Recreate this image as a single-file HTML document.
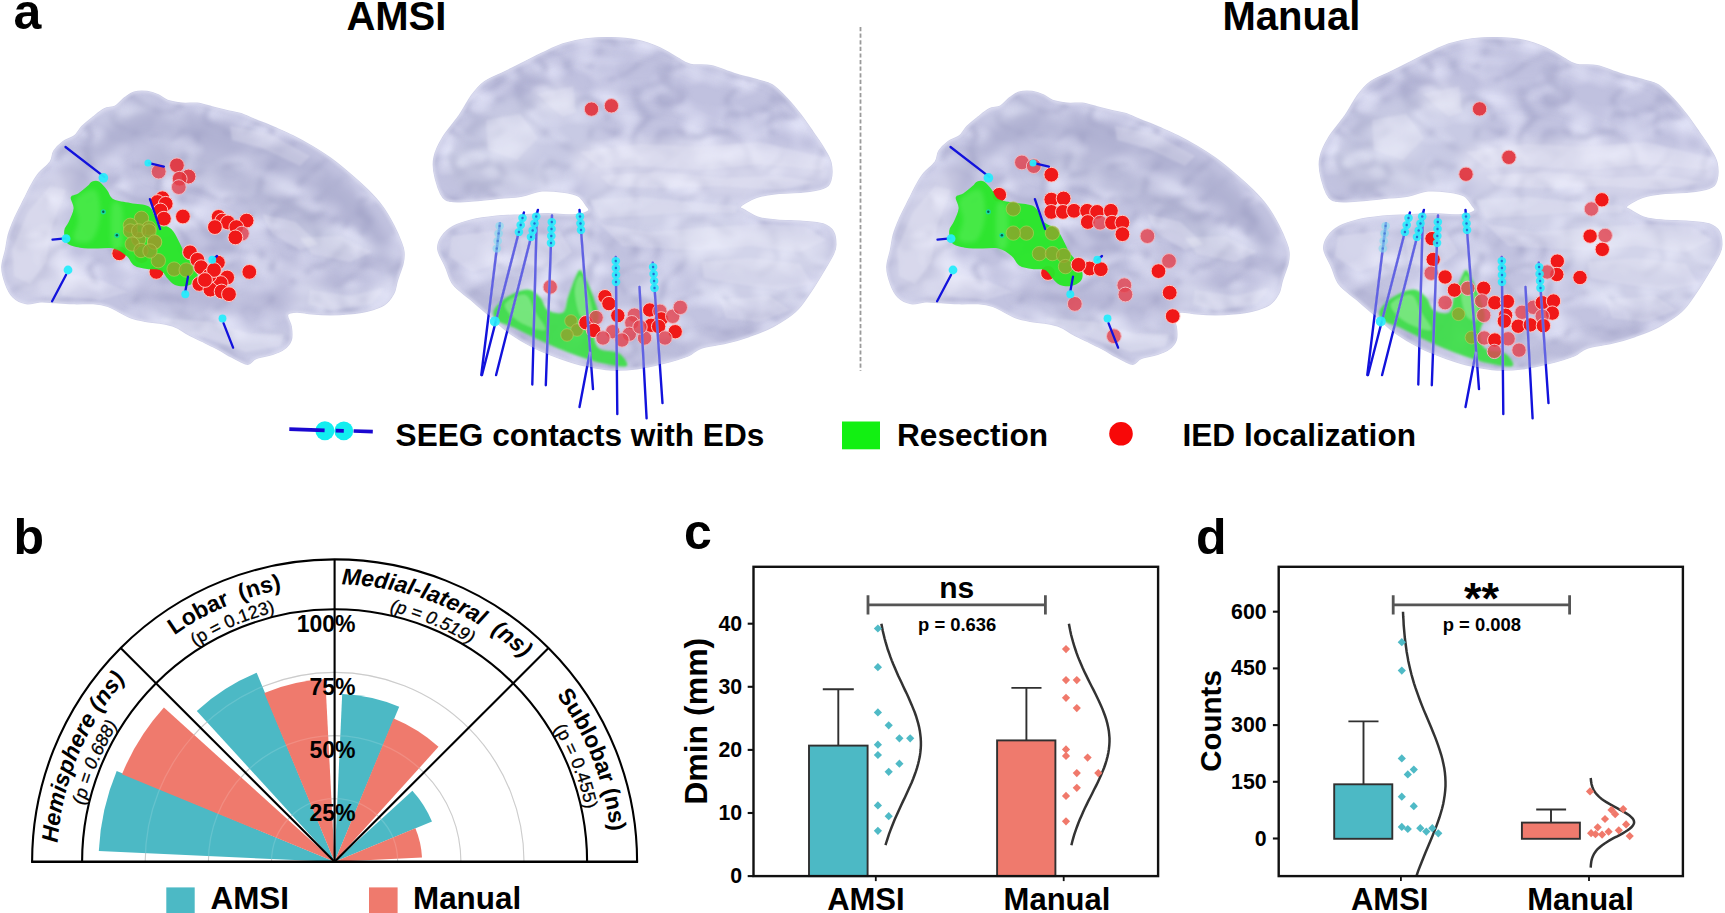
<!DOCTYPE html>
<html><head><meta charset="utf-8"><title>Figure</title>
<style>
html,body{margin:0;padding:0;background:#fff;}
svg{display:block;}
text{font-family:"Liberation Sans",sans-serif;fill:#000;}
</style></head><body>
<svg width="1725" height="913" viewBox="0 0 1725 913">
<defs>
<filter id="soft" x="-5%" y="-5%" width="110%" height="110%"><feGaussianBlur stdDeviation="0.6"/></filter>
<filter id="blur1" x="-10%" y="-10%" width="120%" height="120%"><feGaussianBlur stdDeviation="1"/></filter>
<filter id="blur2" x="-10%" y="-10%" width="120%" height="120%"><feGaussianBlur stdDeviation="2"/></filter>
<filter id="blur4" x="-10%" y="-10%" width="120%" height="120%"><feGaussianBlur stdDeviation="6"/></filter>
<filter id="tex" x="0" y="0" width="100%" height="100%" color-interpolation-filters="sRGB">
<feTurbulence type="turbulence" baseFrequency="0.022 0.03" numOctaves="2" seed="11" result="t"/>
<feColorMatrix in="t" type="matrix" values="0 0 0 0 0.62  0 0 0 0 0.625  0 0 0 0 0.77  -4.0 0 0 0 0.72" result="dark"/>
<feGaussianBlur in="dark" stdDeviation="2.6" result="darkb"/>
<feTurbulence type="fractalNoise" baseFrequency="0.025 0.035" numOctaves="2" seed="5" result="n"/>
<feColorMatrix in="n" type="matrix" values="0 0 0 0 0.88  0 0 0 0 0.885  0 0 0 0 0.965  0 3.0 0 0 -1.25" result="light"/>
<feGaussianBlur in="light" stdDeviation="1.5" result="lightb"/>
<feMerge><feMergeNode in="lightb"/><feMergeNode in="darkb"/></feMerge>
</filter>
</defs>
<rect width="1725" height="913" fill="#fff"/>
<g id="brains">
<clipPath id="cp1"><path d="M5.6,250C6.7,244.6 6.9,240 8.4,234.6C10,229.2 12.3,223.7 14.9,217.8C17.5,211.9 21.4,204.8 24.2,199.2C27,193.6 29.2,188.7 31.7,184.3C34.2,180 36,176.8 39.1,173.1C42.2,169.4 47.8,165.6 50.3,161.9C52.8,158.2 51.8,154.2 54,150.8C56.2,147.4 59.9,144 63.3,141.5C66.7,139 71.4,138.4 74.5,135.9C77.6,133.4 78.8,129.7 81.9,126.6C85,123.5 89.4,120.2 93.1,117.2C96.8,114.2 100.6,110.8 104.3,108.9C108,107.1 112.1,108 115.5,106.1C118.9,104.2 121.7,100 124.8,97.7C127.9,95.4 130.4,93.1 134.1,92.1C137.8,91.1 143.1,91 147.1,91.5C151.1,92 154.9,93.4 158.3,94.9C161.7,96.4 163.6,99.1 167.6,100.5C171.6,101.9 177.5,102.8 182.5,103.3C187.5,103.8 192.4,102.7 197.4,103.3C202.4,103.9 207.3,105.8 212.3,107C217.3,108.2 222.6,109.6 227.2,110.7C231.8,111.8 235.2,112 240,113.5C244.8,115 250.2,117.7 255.9,120C261.6,122.3 268.3,124.8 274.5,127.5C280.7,130.2 286.9,132.8 293.1,135.9C299.3,139 305.5,142.4 311.7,146.1C317.9,149.8 324.2,153.7 330.4,158.2C336.6,162.7 342.8,167.8 349,173.1C355.2,178.4 362,184.3 367.6,189.9C373.2,195.5 378.1,200.7 382.5,206.6C386.9,212.5 390.6,219.4 393.7,225.3C396.8,231.2 399.4,237.6 401.1,242C402.8,246.4 403.6,248.4 403.9,252C404.2,255.6 404.1,258.8 403,263.5C401.9,268.2 398.9,275.3 397.4,280.3C395.8,285.3 395.9,289.3 393.7,293.3C391.5,297.3 388.8,301.6 384.4,304.5C380,307.4 373.5,309.4 367.6,311C361.7,312.6 355.2,313.2 349,313.8C342.8,314.4 336.6,314.7 330.4,314.7C324.2,314.7 317.3,314.3 311.7,313.8C306.1,313.3 300.8,311.8 296.8,311.9C292.8,312 288.4,312.2 287.5,314.7C286.6,317.2 290.6,322.6 291.2,326.8C291.8,331 292.4,336.2 291.2,339.9C290,343.6 287.2,346.7 283.8,349.2C280.4,351.7 275.4,353.2 270.8,354.8C266.2,356.4 259.6,356.9 255.9,358.5C252.2,360.1 251.1,363.6 248.4,364.1C245.8,364.6 242.9,362.6 240,361.3C237.1,360.1 234.6,358.6 230.9,356.6C227.2,354.6 222.6,351.7 217.9,349.2C213.2,346.7 208,344.2 203,341.7C198,339.2 192.8,336.8 188.1,334.3C183.4,331.8 179.7,328.7 175,326.8C170.3,324.9 165,324 160.1,323.1C155.2,322.2 150.2,322.1 145.3,321.2C140.4,320.3 134.8,319.1 130.4,317.5C126.1,315.9 122.9,313.8 119.2,311.9C115.5,310 112.3,307.8 108,306.4C103.7,305 98.7,304.1 93.1,303.6C87.5,303.1 80.7,303.8 74.5,303.6C68.3,303.4 61.5,302.9 55.9,302.6C50.3,302.3 46,301.5 41,301.7C36,301.9 30.8,304.4 26.1,303.6C21.4,302.8 16.4,300.3 13,297C9.6,293.7 7.4,289 5.6,284C3.8,279 1.9,272.9 1.9,267.2C1.9,261.5 4.5,255.4 5.6,250Z"/></clipPath>
<g id="base1">
<path d="M5.6,250C6.7,244.6 6.9,240 8.4,234.6C10,229.2 12.3,223.7 14.9,217.8C17.5,211.9 21.4,204.8 24.2,199.2C27,193.6 29.2,188.7 31.7,184.3C34.2,180 36,176.8 39.1,173.1C42.2,169.4 47.8,165.6 50.3,161.9C52.8,158.2 51.8,154.2 54,150.8C56.2,147.4 59.9,144 63.3,141.5C66.7,139 71.4,138.4 74.5,135.9C77.6,133.4 78.8,129.7 81.9,126.6C85,123.5 89.4,120.2 93.1,117.2C96.8,114.2 100.6,110.8 104.3,108.9C108,107.1 112.1,108 115.5,106.1C118.9,104.2 121.7,100 124.8,97.7C127.9,95.4 130.4,93.1 134.1,92.1C137.8,91.1 143.1,91 147.1,91.5C151.1,92 154.9,93.4 158.3,94.9C161.7,96.4 163.6,99.1 167.6,100.5C171.6,101.9 177.5,102.8 182.5,103.3C187.5,103.8 192.4,102.7 197.4,103.3C202.4,103.9 207.3,105.8 212.3,107C217.3,108.2 222.6,109.6 227.2,110.7C231.8,111.8 235.2,112 240,113.5C244.8,115 250.2,117.7 255.9,120C261.6,122.3 268.3,124.8 274.5,127.5C280.7,130.2 286.9,132.8 293.1,135.9C299.3,139 305.5,142.4 311.7,146.1C317.9,149.8 324.2,153.7 330.4,158.2C336.6,162.7 342.8,167.8 349,173.1C355.2,178.4 362,184.3 367.6,189.9C373.2,195.5 378.1,200.7 382.5,206.6C386.9,212.5 390.6,219.4 393.7,225.3C396.8,231.2 399.4,237.6 401.1,242C402.8,246.4 403.6,248.4 403.9,252C404.2,255.6 404.1,258.8 403,263.5C401.9,268.2 398.9,275.3 397.4,280.3C395.8,285.3 395.9,289.3 393.7,293.3C391.5,297.3 388.8,301.6 384.4,304.5C380,307.4 373.5,309.4 367.6,311C361.7,312.6 355.2,313.2 349,313.8C342.8,314.4 336.6,314.7 330.4,314.7C324.2,314.7 317.3,314.3 311.7,313.8C306.1,313.3 300.8,311.8 296.8,311.9C292.8,312 288.4,312.2 287.5,314.7C286.6,317.2 290.6,322.6 291.2,326.8C291.8,331 292.4,336.2 291.2,339.9C290,343.6 287.2,346.7 283.8,349.2C280.4,351.7 275.4,353.2 270.8,354.8C266.2,356.4 259.6,356.9 255.9,358.5C252.2,360.1 251.1,363.6 248.4,364.1C245.8,364.6 242.9,362.6 240,361.3C237.1,360.1 234.6,358.6 230.9,356.6C227.2,354.6 222.6,351.7 217.9,349.2C213.2,346.7 208,344.2 203,341.7C198,339.2 192.8,336.8 188.1,334.3C183.4,331.8 179.7,328.7 175,326.8C170.3,324.9 165,324 160.1,323.1C155.2,322.2 150.2,322.1 145.3,321.2C140.4,320.3 134.8,319.1 130.4,317.5C126.1,315.9 122.9,313.8 119.2,311.9C115.5,310 112.3,307.8 108,306.4C103.7,305 98.7,304.1 93.1,303.6C87.5,303.1 80.7,303.8 74.5,303.6C68.3,303.4 61.5,302.9 55.9,302.6C50.3,302.3 46,301.5 41,301.7C36,301.9 30.8,304.4 26.1,303.6C21.4,302.8 16.4,300.3 13,297C9.6,293.7 7.4,289 5.6,284C3.8,279 1.9,272.9 1.9,267.2C1.9,261.5 4.5,255.4 5.6,250Z" fill="#c2c3e0" stroke="#cfd0e8" stroke-width="1.5" filter="url(#soft)"/>
<g clip-path="url(#cp1)">
<rect x="-3.1" y="86.5" width="412" height="282.6" filter="url(#tex)"/>
<g filter="url(#blur4)">
<path d="M60,175C63.3,165.8 81.7,150.5 95,140C108.3,129.5 122.5,115.7 140,112C157.5,108.3 180,114.2 200,118C220,121.8 240,127.2 260,135C280,142.8 302.5,153.3 320,165C337.5,176.7 353,190.8 365,205C377,219.2 389.5,240.5 392,250C394.5,259.5 387,266.7 380,262C373,257.3 363.3,234.3 350,222C336.7,209.7 318.3,198.3 300,188C281.7,177.7 258.3,167.2 240,160C221.7,152.8 206.7,148.3 190,145C173.3,141.7 155,136.7 140,140C125,143.3 110.8,155.8 100,165C89.2,174.2 81.7,193.3 75,195C68.3,196.7 56.7,184.2 60,175Z" fill="#9fa1c5" fill-opacity="0.5"/>
<path d="M150,150C158.3,145.8 181.7,145.8 200,150C218.3,154.2 240,164.2 260,175C280,185.8 305,202.5 320,215C335,227.5 348.3,242.2 350,250C351.7,257.8 340,265.3 330,262C320,258.7 305,240.3 290,230C275,219.7 256.7,208.3 240,200C223.3,191.7 205,184.2 190,180C175,175.8 156.7,180 150,175C143.3,170 141.7,154.2 150,150Z" fill="#9fa1c5" fill-opacity="0.3"/>
<path d="M130,296C135,298.7 163.3,297.3 180,300C196.7,302.7 212.5,310.3 230,312C247.5,313.7 273.3,312.3 285,310C296.7,307.7 300.8,301.7 300,298C299.2,294.3 290,288.3 280,288C270,287.7 255,295.7 240,296C225,296.3 205,292 190,290C175,288 160,283 150,284C140,285 125,293.3 130,296Z" fill="#9fa1c5" fill-opacity="0.4"/>
<path d="M255,250C262,248.3 285.8,259 300,262C314.2,265 328.3,269.2 340,268C351.7,266.8 364.7,254.7 370,255C375.3,255.3 377,265 372,270C367,275 352.8,282.5 340,285C327.2,287.5 308.7,287.2 295,285C281.3,282.8 264.7,277.8 258,272C251.3,266.2 248,251.7 255,250Z" fill="#9fa1c5" fill-opacity="0.25"/>
<path d="M8,250C10,238.3 13.8,221.7 20,210C26.2,198.3 35.8,186.7 45,180C54.2,173.3 70.8,166.7 75,170C79.2,173.3 72.2,189.2 70,200C67.8,210.8 62,224.7 62,235C62,245.3 64.5,253.7 70,262C75.5,270.3 96.7,279 95,285C93.3,291 71.7,296.2 60,298C48.3,299.8 33.7,299 25,296C16.3,293 10.8,287.7 8,280C5.2,272.3 6,261.7 8,250Z" fill="#e6e7f5" fill-opacity="0.372"/>
<path d="M300,285C305.8,282 326.7,292 340,292C353.3,292 370.7,290 380,285C389.3,280 395.2,259.5 396,262C396.8,264.5 392.7,292 385,300C377.3,308 363.3,308.3 350,310C336.7,311.7 313.3,314.2 305,310C296.7,305.8 294.2,288 300,285Z" fill="#e6e7f5" fill-opacity="0.31"/>
<path d="M150,312C154.2,310.3 188.3,315 205,318C221.7,321 236.7,328 250,330C263.3,332 279.2,327.5 285,330C290.8,332.5 290.8,340.8 285,345C279.2,349.2 261.7,355.8 250,355C238.3,354.2 226.7,344.5 215,340C203.3,335.5 190.8,332.7 180,328C169.2,323.3 145.8,313.7 150,312Z" fill="#e6e7f5" fill-opacity="0.31"/>
<path d="M300,225C306.7,222.8 333,227.8 345,232C357,236.2 371.2,246 372,250C372.8,254 361.2,256.8 350,256C338.8,255.2 313.3,250.2 305,245C296.7,239.8 293.3,227.2 300,225Z" fill="#e6e7f5" fill-opacity="0.186"/>
<path d="M95,120C95.8,116.3 115.8,104.2 125,100C134.2,95.8 145.8,93.7 150,95C154.2,96.3 155,103.5 150,108C145,112.5 129.2,120 120,122C110.8,124 94.2,123.7 95,120Z" fill="#e6e7f5" fill-opacity="0.186"/>
</g>
<g fill="#f4f4fb" fill-opacity="0.24" filter="url(#blur1)">
<path d="M12,250L28,212L50,186L66,190L52,226L46,262L30,284L14,276Z"/>
<path d="M60,272L100,280L128,292L100,300L62,296Z"/>
<path d="M300,238L340,236L372,252L350,262L312,254Z"/>
<path d="M310,290L350,296L384,288L372,304L330,310L308,304Z"/>
<path d="M160,318L210,322L250,334L284,334L280,346L246,352L212,340L176,330Z"/>
<path d="M230,126L270,134L310,156L300,166L262,148L232,140Z"/>
<path d="M262,214L296,222L318,244L300,250L272,234Z"/>
</g>
<path d="M5.6,250C6.7,244.6 6.9,240 8.4,234.6C10,229.2 12.3,223.7 14.9,217.8C17.5,211.9 21.4,204.8 24.2,199.2C27,193.6 29.2,188.7 31.7,184.3C34.2,180 36,176.8 39.1,173.1C42.2,169.4 47.8,165.6 50.3,161.9C52.8,158.2 51.8,154.2 54,150.8C56.2,147.4 59.9,144 63.3,141.5C66.7,139 71.4,138.4 74.5,135.9C77.6,133.4 78.8,129.7 81.9,126.6C85,123.5 89.4,120.2 93.1,117.2C96.8,114.2 100.6,110.8 104.3,108.9C108,107.1 112.1,108 115.5,106.1C118.9,104.2 121.7,100 124.8,97.7C127.9,95.4 130.4,93.1 134.1,92.1C137.8,91.1 143.1,91 147.1,91.5C151.1,92 154.9,93.4 158.3,94.9C161.7,96.4 163.6,99.1 167.6,100.5C171.6,101.9 177.5,102.8 182.5,103.3C187.5,103.8 192.4,102.7 197.4,103.3C202.4,103.9 207.3,105.8 212.3,107C217.3,108.2 222.6,109.6 227.2,110.7C231.8,111.8 235.2,112 240,113.5C244.8,115 250.2,117.7 255.9,120C261.6,122.3 268.3,124.8 274.5,127.5C280.7,130.2 286.9,132.8 293.1,135.9C299.3,139 305.5,142.4 311.7,146.1C317.9,149.8 324.2,153.7 330.4,158.2C336.6,162.7 342.8,167.8 349,173.1C355.2,178.4 362,184.3 367.6,189.9C373.2,195.5 378.1,200.7 382.5,206.6C386.9,212.5 390.6,219.4 393.7,225.3C396.8,231.2 399.4,237.6 401.1,242C402.8,246.4 403.6,248.4 403.9,252C404.2,255.6 404.1,258.8 403,263.5C401.9,268.2 398.9,275.3 397.4,280.3C395.8,285.3 395.9,289.3 393.7,293.3C391.5,297.3 388.8,301.6 384.4,304.5C380,307.4 373.5,309.4 367.6,311C361.7,312.6 355.2,313.2 349,313.8C342.8,314.4 336.6,314.7 330.4,314.7C324.2,314.7 317.3,314.3 311.7,313.8C306.1,313.3 300.8,311.8 296.8,311.9C292.8,312 288.4,312.2 287.5,314.7C286.6,317.2 290.6,322.6 291.2,326.8C291.8,331 292.4,336.2 291.2,339.9C290,343.6 287.2,346.7 283.8,349.2C280.4,351.7 275.4,353.2 270.8,354.8C266.2,356.4 259.6,356.9 255.9,358.5C252.2,360.1 251.1,363.6 248.4,364.1C245.8,364.6 242.9,362.6 240,361.3C237.1,360.1 234.6,358.6 230.9,356.6C227.2,354.6 222.6,351.7 217.9,349.2C213.2,346.7 208,344.2 203,341.7C198,339.2 192.8,336.8 188.1,334.3C183.4,331.8 179.7,328.7 175,326.8C170.3,324.9 165,324 160.1,323.1C155.2,322.2 150.2,322.1 145.3,321.2C140.4,320.3 134.8,319.1 130.4,317.5C126.1,315.9 122.9,313.8 119.2,311.9C115.5,310 112.3,307.8 108,306.4C103.7,305 98.7,304.1 93.1,303.6C87.5,303.1 80.7,303.8 74.5,303.6C68.3,303.4 61.5,302.9 55.9,302.6C50.3,302.3 46,301.5 41,301.7C36,301.9 30.8,304.4 26.1,303.6C21.4,302.8 16.4,300.3 13,297C9.6,293.7 7.4,289 5.6,284C3.8,279 1.9,272.9 1.9,267.2C1.9,261.5 4.5,255.4 5.6,250Z" fill="none" stroke="#d9daee" stroke-width="3.5" stroke-opacity="0.7" filter="url(#blur1)"/>
</g>
</g>
<clipPath id="cp2"><path d="M585.8,204.8C584.1,202.2 582,198 578.2,195.9C574.4,193.8 568.9,192.9 562.9,192.1C556.9,191.2 549.2,190.2 542.4,190.8C535.6,191.4 529.6,194.6 522,195.9C514.4,197.2 505,197.7 496.5,198.5C488,199.3 479.5,200.8 471,201C462.5,201.2 451.4,203.5 445.5,199.7C439.6,195.9 437.2,185 435.3,178C433.4,171 432.7,164.4 434,157.6C435.3,150.8 438.9,144 443,137.2C447.1,130.4 453.6,123.6 458.3,116.8C463,110 466.8,102.2 471,96.4C475.2,90.7 478.3,86.3 483.8,82.3C489.3,78.2 497.8,75.3 504.2,72.1C510.6,68.9 515.7,66.4 522.1,63.2C528.5,60 535.7,56.2 542.5,53C549.3,49.8 555.7,46.4 562.9,44C570.1,41.6 577.8,39.9 585.9,38.9C594,37.9 602.9,37.5 611.4,37.7C619.9,37.9 628.8,38.5 636.9,40.2C645,41.9 653.1,44.9 659.9,47.9C666.7,50.9 672.7,55.3 677.8,58.1C682.9,60.9 685,63.2 690.5,64.5C696,65.8 703.8,64.2 711,65.7C718.2,67.2 726.2,71.1 733.9,73.4C741.5,75.8 750.5,77.9 756.9,79.8C763.3,81.7 767.1,81.7 772.2,84.9C777.3,88.1 782.8,94 787.5,98.9C792.2,103.8 796,108.7 800.3,114.2C804.5,119.7 809.2,126.6 813,132.1C816.8,137.6 820.3,142.3 823.3,147.4C826.3,152.5 829.7,157.2 830.9,162.7C832.1,168.2 832,176.3 830.7,180.6C829.4,184.9 827.8,186.4 823.1,188.3C818.4,190.2 810.4,191.2 802.7,192.1C795,192.9 784.8,192.6 777.1,193.4C769.4,194.2 762.2,195.5 756.7,197.2C751.2,198.9 746.8,201.9 744,203.6C741.2,205.3 740.2,206.3 740.2,207.4C740.2,208.5 740.8,208.2 744,209.9C747.2,211.6 753.8,215.9 759.3,217.6C764.8,219.3 769.9,219.6 777.1,220.2C784.3,220.8 795,220.8 802.7,221.4C810.4,222 818,222.3 823.1,224C828.2,225.7 831.2,228.2 833.3,231.6C835.4,235 835.8,240.7 835.8,244.4C835.8,248.1 835.6,249.2 833.5,253.8C831.4,258.4 827.1,265.3 823.3,271.7C819.5,278.1 815.1,285.5 810.5,292.1C805.9,298.7 801.8,305.8 795.5,311.5C789.2,317.2 780.8,322.3 773,326.5C765.2,330.7 756.8,333.7 749,336.5C741.2,339.3 734.3,341.2 726.3,343.1C718.3,345.1 707.2,346.1 700.8,348.2C694.4,350.3 694.4,353.3 688,355.9C681.6,358.5 671,361.5 662.5,363.6C654,365.7 645.4,367.6 636.9,368.7C628.4,369.8 619.9,370.3 611.4,369.9C602.9,369.5 594.4,368 585.9,366.1C577.4,364.2 568.9,361.5 560.4,358.5C551.9,355.5 543.4,352.5 534.9,348.2C526.4,343.9 517,338.4 509.3,332.9C501.6,327.4 495.3,320.6 488.9,315.1C482.5,309.6 476.9,304.9 471,299.8C465.1,294.7 457.4,289.9 453.2,284.4C448.9,278.9 448.1,272.4 445.5,266.6C442.9,260.8 438.5,254.5 437.9,249.5C437.3,244.5 439.1,240.5 441.7,236.7C444.2,232.9 448.3,229.2 453.2,226.5C458.1,223.8 463.8,221.9 471,220.2C478.2,218.5 488,217.2 496.5,216.3C505,215.4 513.5,215.4 522,215C530.5,214.6 539.1,213.8 547.6,213.8C556.1,213.8 566.3,215.4 573.1,215C579.9,214.6 586.3,212.9 588.4,211.2C590.5,209.5 587.5,207.4 585.8,204.8Z"/></clipPath>
<g id="base2">
<path d="M585.8,204.8C584.1,202.2 582,198 578.2,195.9C574.4,193.8 568.9,192.9 562.9,192.1C556.9,191.2 549.2,190.2 542.4,190.8C535.6,191.4 529.6,194.6 522,195.9C514.4,197.2 505,197.7 496.5,198.5C488,199.3 479.5,200.8 471,201C462.5,201.2 451.4,203.5 445.5,199.7C439.6,195.9 437.2,185 435.3,178C433.4,171 432.7,164.4 434,157.6C435.3,150.8 438.9,144 443,137.2C447.1,130.4 453.6,123.6 458.3,116.8C463,110 466.8,102.2 471,96.4C475.2,90.7 478.3,86.3 483.8,82.3C489.3,78.2 497.8,75.3 504.2,72.1C510.6,68.9 515.7,66.4 522.1,63.2C528.5,60 535.7,56.2 542.5,53C549.3,49.8 555.7,46.4 562.9,44C570.1,41.6 577.8,39.9 585.9,38.9C594,37.9 602.9,37.5 611.4,37.7C619.9,37.9 628.8,38.5 636.9,40.2C645,41.9 653.1,44.9 659.9,47.9C666.7,50.9 672.7,55.3 677.8,58.1C682.9,60.9 685,63.2 690.5,64.5C696,65.8 703.8,64.2 711,65.7C718.2,67.2 726.2,71.1 733.9,73.4C741.5,75.8 750.5,77.9 756.9,79.8C763.3,81.7 767.1,81.7 772.2,84.9C777.3,88.1 782.8,94 787.5,98.9C792.2,103.8 796,108.7 800.3,114.2C804.5,119.7 809.2,126.6 813,132.1C816.8,137.6 820.3,142.3 823.3,147.4C826.3,152.5 829.7,157.2 830.9,162.7C832.1,168.2 832,176.3 830.7,180.6C829.4,184.9 827.8,186.4 823.1,188.3C818.4,190.2 810.4,191.2 802.7,192.1C795,192.9 784.8,192.6 777.1,193.4C769.4,194.2 762.2,195.5 756.7,197.2C751.2,198.9 746.8,201.9 744,203.6C741.2,205.3 740.2,206.3 740.2,207.4C740.2,208.5 740.8,208.2 744,209.9C747.2,211.6 753.8,215.9 759.3,217.6C764.8,219.3 769.9,219.6 777.1,220.2C784.3,220.8 795,220.8 802.7,221.4C810.4,222 818,222.3 823.1,224C828.2,225.7 831.2,228.2 833.3,231.6C835.4,235 835.8,240.7 835.8,244.4C835.8,248.1 835.6,249.2 833.5,253.8C831.4,258.4 827.1,265.3 823.3,271.7C819.5,278.1 815.1,285.5 810.5,292.1C805.9,298.7 801.8,305.8 795.5,311.5C789.2,317.2 780.8,322.3 773,326.5C765.2,330.7 756.8,333.7 749,336.5C741.2,339.3 734.3,341.2 726.3,343.1C718.3,345.1 707.2,346.1 700.8,348.2C694.4,350.3 694.4,353.3 688,355.9C681.6,358.5 671,361.5 662.5,363.6C654,365.7 645.4,367.6 636.9,368.7C628.4,369.8 619.9,370.3 611.4,369.9C602.9,369.5 594.4,368 585.9,366.1C577.4,364.2 568.9,361.5 560.4,358.5C551.9,355.5 543.4,352.5 534.9,348.2C526.4,343.9 517,338.4 509.3,332.9C501.6,327.4 495.3,320.6 488.9,315.1C482.5,309.6 476.9,304.9 471,299.8C465.1,294.7 457.4,289.9 453.2,284.4C448.9,278.9 448.1,272.4 445.5,266.6C442.9,260.8 438.5,254.5 437.9,249.5C437.3,244.5 439.1,240.5 441.7,236.7C444.2,232.9 448.3,229.2 453.2,226.5C458.1,223.8 463.8,221.9 471,220.2C478.2,218.5 488,217.2 496.5,216.3C505,215.4 513.5,215.4 522,215C530.5,214.6 539.1,213.8 547.6,213.8C556.1,213.8 566.3,215.4 573.1,215C579.9,214.6 586.3,212.9 588.4,211.2C590.5,209.5 587.5,207.4 585.8,204.8Z" fill="#c2c3e0" stroke="#cfd0e8" stroke-width="1.5" filter="url(#soft)"/>
<g clip-path="url(#cp2)">
<rect x="429" y="32.7" width="411.8" height="342.2" filter="url(#tex)"/>
<g filter="url(#blur4)">
<path d="M470,120C475,108.3 500,90.8 520,80C540,69.2 566.7,58 590,55C613.3,52 638.3,57 660,62C681.7,67 700,77 720,85C740,93 765,99.2 780,110C795,120.8 810,141.7 810,150C810,158.3 795,163.3 780,160C765,156.7 740,138.3 720,130C700,121.7 680,114.2 660,110C640,105.8 620,103.3 600,105C580,106.7 558.3,112.5 540,120C521.7,127.5 501.7,150 490,150C478.3,150 465,131.7 470,120Z" fill="#9fa1c5" fill-opacity="0.06"/>
<path d="M445,170C445,162.7 457.5,151.7 470,150C482.5,148.3 505.7,155.3 520,160C534.3,164.7 556,172.7 556,178C556,183.3 534.3,189.3 520,192C505.7,194.7 482.5,197.7 470,194C457.5,190.3 445,177.3 445,170Z" fill="#9fa1c5" fill-opacity="0.2"/>
<path d="M450,150C453.3,137.5 466.7,119.2 480,110C493.3,100.8 512.5,96.7 530,95C547.5,93.3 573.3,92.5 585,100C596.7,107.5 600.8,126.7 600,140C599.2,153.3 593.3,171.7 580,180C566.7,188.3 540,189.2 520,190C500,190.8 471.7,191.7 460,185C448.3,178.3 446.7,162.5 450,150Z" fill="#e6e7f5" fill-opacity="0.186"/>
<path d="M535,92C537.5,87.3 553.3,83 560,84C566.7,85 573.3,93 575,98C576.7,103 575,111.7 570,114C565,116.3 550.8,115.7 545,112C539.2,108.3 532.5,96.7 535,92Z" fill="#e6e7f5" fill-opacity="0.372"/>
<path d="M484,130C485.7,123 501.5,118.3 510,118C518.5,117.7 531.7,121.8 535,128C538.3,134.2 535.8,149.7 530,155C524.2,160.3 507.7,164.2 500,160C492.3,155.8 482.3,137 484,130Z" fill="#e6e7f5" fill-opacity="0.341"/>
<path d="M578,150C587.2,143 616.3,141.3 640,140C663.7,138.7 695,140.3 720,142C745,143.7 772,146.2 790,150C808,153.8 822.7,159.3 828,165C833.3,170.7 831.7,180.2 822,184C812.3,187.8 783.7,185.7 770,188C756.3,190.3 753.3,197.7 740,198C726.7,198.3 708.3,192 690,190C671.7,188 647.5,187.3 630,186C612.5,184.7 593.7,188 585,182C576.3,176 568.8,157 578,150Z" fill="#e6e7f5" fill-opacity="0.496"/>
<path d="M590,188C601.7,184.3 635,189.2 660,192C685,194.8 727.5,198.3 740,205C752.5,211.7 745,226.5 735,232C725,237.5 699.2,238.3 680,238C660.8,237.7 635,234 620,230C605,226 595,221 590,214C585,207 578.3,191.7 590,188Z" fill="#e6e7f5" fill-opacity="0.341"/>
<path d="M675,236C685,230.3 719.2,228.7 740,228C760.8,227.3 785,229.2 800,232C815,234.8 826.3,239 830,245C833.7,251 830.3,262.8 822,268C813.7,273.2 797,275.3 780,276C763,276.7 736.7,274.3 720,272C703.3,269.7 687.5,268 680,262C672.5,256 665,241.7 675,236Z" fill="#e6e7f5" fill-opacity="0.465"/>
<path d="M700,282C709.2,278.7 742.8,279.3 760,280C777.2,280.7 797.2,282 803,286C808.8,290 805.5,300.7 795,304C784.5,307.3 755,306.7 740,306C725,305.3 711.7,304 705,300C698.3,296 690.8,285.3 700,282Z" fill="#e6e7f5" fill-opacity="0.31"/>
<path d="M450,232C454.2,225.3 468.3,222.7 480,222C491.7,221.3 506.7,225 520,228C533.3,231 555.8,234.3 560,240C564.2,245.7 555,257.3 545,262C535,266.7 515,268 500,268C485,268 463.3,268 455,262C446.7,256 445.8,238.7 450,232Z" fill="#e6e7f5" fill-opacity="0.248"/>
<path d="M455,275C462,276.7 482.5,290 500,300C517.5,310 540,326.3 560,335C580,343.7 598.3,351.2 620,352C641.7,352.8 670,344.5 690,340C710,335.5 723.3,331.7 740,325C756.7,318.3 781.7,301.2 790,300C798.3,298.8 797.5,311.7 790,318C782.5,324.3 761.7,332 745,338C728.3,344 710.8,349.3 690,354C669.2,358.7 641.7,365.8 620,366C598.3,366.2 580,361.8 560,355C540,348.2 517,335.8 500,325C483,314.2 465.5,298.3 458,290C450.5,281.7 448,273.3 455,275Z" fill="#9fa1c5" fill-opacity="0.25"/>
</g>
<g fill="#f4f4fb" fill-opacity="0.24" filter="url(#blur1)">
<path d="M537.4,93.8L573.1,86.2L575.7,112L562.9,116.8L547.6,104Z"/>
<path d="M486,120L520,114L538,138L517,160L488,150Z"/>
<path d="M580,152L640,144L700,147L760,142L826,158L822,170L760,164L700,170L640,166L600,168Z"/>
<path d="M600,176L660,172L720,178L780,176L815,182L780,190L720,186L660,188L610,186Z"/>
<path d="M590,200L640,197L700,203L738,206L735,213L690,212L640,216L600,218Z"/>
<path d="M600,224L650,232L700,228L760,224L805,226L826,240L800,252L750,246L700,250L650,248L622,246Z"/>
<path d="M702,262L750,258L800,264L812,284L780,290L750,286L704,278Z"/>
<path d="M452,236L494,231L503,262L472,272L449,256Z"/>
<path d="M520,238L560,232L572,252L548,270L522,262Z"/>
<path d="M720,300L770,296L790,310L760,322L726,318Z"/>
</g>
<path d="M585.8,204.8C584.1,202.2 582,198 578.2,195.9C574.4,193.8 568.9,192.9 562.9,192.1C556.9,191.2 549.2,190.2 542.4,190.8C535.6,191.4 529.6,194.6 522,195.9C514.4,197.2 505,197.7 496.5,198.5C488,199.3 479.5,200.8 471,201C462.5,201.2 451.4,203.5 445.5,199.7C439.6,195.9 437.2,185 435.3,178C433.4,171 432.7,164.4 434,157.6C435.3,150.8 438.9,144 443,137.2C447.1,130.4 453.6,123.6 458.3,116.8C463,110 466.8,102.2 471,96.4C475.2,90.7 478.3,86.3 483.8,82.3C489.3,78.2 497.8,75.3 504.2,72.1C510.6,68.9 515.7,66.4 522.1,63.2C528.5,60 535.7,56.2 542.5,53C549.3,49.8 555.7,46.4 562.9,44C570.1,41.6 577.8,39.9 585.9,38.9C594,37.9 602.9,37.5 611.4,37.7C619.9,37.9 628.8,38.5 636.9,40.2C645,41.9 653.1,44.9 659.9,47.9C666.7,50.9 672.7,55.3 677.8,58.1C682.9,60.9 685,63.2 690.5,64.5C696,65.8 703.8,64.2 711,65.7C718.2,67.2 726.2,71.1 733.9,73.4C741.5,75.8 750.5,77.9 756.9,79.8C763.3,81.7 767.1,81.7 772.2,84.9C777.3,88.1 782.8,94 787.5,98.9C792.2,103.8 796,108.7 800.3,114.2C804.5,119.7 809.2,126.6 813,132.1C816.8,137.6 820.3,142.3 823.3,147.4C826.3,152.5 829.7,157.2 830.9,162.7C832.1,168.2 832,176.3 830.7,180.6C829.4,184.9 827.8,186.4 823.1,188.3C818.4,190.2 810.4,191.2 802.7,192.1C795,192.9 784.8,192.6 777.1,193.4C769.4,194.2 762.2,195.5 756.7,197.2C751.2,198.9 746.8,201.9 744,203.6C741.2,205.3 740.2,206.3 740.2,207.4C740.2,208.5 740.8,208.2 744,209.9C747.2,211.6 753.8,215.9 759.3,217.6C764.8,219.3 769.9,219.6 777.1,220.2C784.3,220.8 795,220.8 802.7,221.4C810.4,222 818,222.3 823.1,224C828.2,225.7 831.2,228.2 833.3,231.6C835.4,235 835.8,240.7 835.8,244.4C835.8,248.1 835.6,249.2 833.5,253.8C831.4,258.4 827.1,265.3 823.3,271.7C819.5,278.1 815.1,285.5 810.5,292.1C805.9,298.7 801.8,305.8 795.5,311.5C789.2,317.2 780.8,322.3 773,326.5C765.2,330.7 756.8,333.7 749,336.5C741.2,339.3 734.3,341.2 726.3,343.1C718.3,345.1 707.2,346.1 700.8,348.2C694.4,350.3 694.4,353.3 688,355.9C681.6,358.5 671,361.5 662.5,363.6C654,365.7 645.4,367.6 636.9,368.7C628.4,369.8 619.9,370.3 611.4,369.9C602.9,369.5 594.4,368 585.9,366.1C577.4,364.2 568.9,361.5 560.4,358.5C551.9,355.5 543.4,352.5 534.9,348.2C526.4,343.9 517,338.4 509.3,332.9C501.6,327.4 495.3,320.6 488.9,315.1C482.5,309.6 476.9,304.9 471,299.8C465.1,294.7 457.4,289.9 453.2,284.4C448.9,278.9 448.1,272.4 445.5,266.6C442.9,260.8 438.5,254.5 437.9,249.5C437.3,244.5 439.1,240.5 441.7,236.7C444.2,232.9 448.3,229.2 453.2,226.5C458.1,223.8 463.8,221.9 471,220.2C478.2,218.5 488,217.2 496.5,216.3C505,215.4 513.5,215.4 522,215C530.5,214.6 539.1,213.8 547.6,213.8C556.1,213.8 566.3,215.4 573.1,215C579.9,214.6 586.3,212.9 588.4,211.2C590.5,209.5 587.5,207.4 585.8,204.8Z" fill="none" stroke="#d9daee" stroke-width="3.5" stroke-opacity="0.7" filter="url(#blur1)"/>
</g>
</g>
<circle cx="119.2" cy="253.3" r="7.4" fill="#f01818" stroke="#ffc9c4" stroke-width="1"/>
<circle cx="141.5" cy="256.1" r="7.4" fill="#f01818" stroke="#ffc9c4" stroke-width="1"/>
<circle cx="156.4" cy="271.9" r="7.4" fill="#f01818" stroke="#ffc9c4" stroke-width="1"/>
<g id="green1"><path id="g1p" d="M92.2,181.5C94.1,180.7 96.5,180.1 99,181.5C101.5,182.9 104.6,187 107,189.9C109.4,192.8 109.7,197 113.6,199.2C117.5,201.4 124.5,201.7 130.4,202.9C136.3,204.1 144.3,203.5 149,206.6C153.7,209.7 154.6,217.8 158.3,221.5C162,225.2 167.9,225.7 171.3,229C174.7,232.3 176.6,237.3 178.8,241.2C181,245.1 182.2,248.9 184.4,252.3C186.6,255.7 189.6,258.3 191.8,261.7C194,265.1 196.8,269.6 197.4,272.8C198,276.1 197.4,279 195.5,281.2C193.6,283.4 189.6,285.3 186.2,285.9C182.8,286.5 178.1,286.1 175,284.9C171.9,283.6 170.1,280.9 167.6,278.4C165.1,275.9 163.5,271.6 160.1,270C156.7,268.4 151.4,269.9 147.1,269.1C142.8,268.3 137.5,267.6 134.1,265.4C130.7,263.2 130,258.9 126.6,256.1C123.2,253.3 118.6,249.8 113.6,248.6C108.6,247.3 102.4,248.8 96.8,248.6C91.2,248.4 85,248.6 80,247.7C75,246.8 69.6,245.8 67,243C64.4,240.2 63.9,234.4 64.2,230.8C64.5,227.2 67.3,225.2 68.9,221.5C70.5,217.8 73.3,212.5 73.6,208.5C73.9,204.5 70,199.8 70.8,197.3C71.6,194.8 75.4,195.5 78.2,193.6C81,191.7 85.2,188.1 87.5,186.1C89.8,184.1 90.3,182.3 92.2,181.5Z" fill="#28e628" fill-opacity="0.96"/><g fill="#72f072" fill-opacity="0.35" filter="url(#blur2)"><path d="M75,200C77.8,195 90.8,187.5 95,190C99.2,192.5 100.5,206.7 100,215C99.5,223.3 96.3,235.8 92,240C87.7,244.2 76.3,243.3 74,240C71.7,236.7 77.8,226.7 78,220C78.2,213.3 72.2,205 75,200Z"/><path d="M112,205C113.7,198.7 120.3,201.3 122,208C123.7,214.7 123.7,238.7 122,245C120.3,251.3 113.7,252.7 112,246C110.3,239.3 110.3,211.3 112,205Z"/></g><circle cx="103.3" cy="211.8" r="2.6" fill="#16dca0"/><circle cx="116.9" cy="235.3" r="2.6" fill="#16dca0"/><circle cx="103.3" cy="211.8" r="1.2" fill="#0b5a4c"/><circle cx="116.9" cy="235.3" r="1.2" fill="#0b5a4c"/></g>
<g id="green2" filter="url(#blur1)"><path id="g2p" d="M494,310C495.7,306.2 501.3,300.6 506.8,297.2C512.3,293.8 521.7,289.5 527.2,289.5C532.7,289.5 536.6,293.8 540,297.2C543.4,300.6 543.8,307.4 547.6,310C551.4,312.6 559.6,314.6 563,312.5C566.4,310.4 565.9,303.1 568,297.2C570.1,291.2 573.6,281.3 575.7,276.8C577.8,272.3 578.7,269.1 580.8,270.4C582.9,271.7 586,278.6 588.5,284.4C591,290.1 594.4,299.4 596.1,304.9C597.8,310.4 599.1,313.1 598.7,317.6C598.4,322.1 594,326.9 594,332C594,337.1 594.5,344.6 598.7,348.2C602.9,351.8 614.3,350.3 619,353.3C623.7,356.3 629.2,364.4 626.7,366.1C624.2,367.8 611.9,365.3 603.8,363.6C595.7,361.9 585.9,358.5 578.2,355.9C570.5,353.3 565,351.2 557.8,348.2C550.6,345.2 542.1,341.4 534.9,338C527.7,334.6 520.8,330.8 514.4,327.8C508,324.8 500,323.2 496.6,320.2C493.2,317.2 492.3,313.8 494,310Z" fill="#35e03e" fill-opacity="0.88"/><g fill="#b8f3b8" fill-opacity="0.42"><path d="M505,305C505.8,300.5 520,293.8 525,295C530,296.2 531.7,306.2 535,312C538.3,317.8 547.5,328.3 545,330C542.5,331.7 526.7,326.2 520,322C513.3,317.8 504.2,309.5 505,305Z"/><path d="M575,290C575.2,283.5 578.5,274.3 581,276C583.5,277.7 588.2,292.7 590,300C591.8,307.3 593.7,317.5 592,320C590.3,322.5 582.8,320 580,315C577.2,310 574.8,296.5 575,290Z"/></g></g>
<g id="ol1"><circle cx="141.5" cy="218.3" r="7.2" fill="#93a02c" stroke="#b9d660" stroke-width="0.7" stroke-opacity="0.8" fill-opacity="0.78"/>
<circle cx="130.3" cy="225.3" r="7.2" fill="#93a02c" stroke="#b9d660" stroke-width="0.7" stroke-opacity="0.8" fill-opacity="0.78"/>
<circle cx="149" cy="228.1" r="7.2" fill="#93a02c" stroke="#b9d660" stroke-width="0.7" stroke-opacity="0.8" fill-opacity="0.78"/>
<circle cx="138.7" cy="239.3" r="7.2" fill="#93a02c" stroke="#b9d660" stroke-width="0.7" stroke-opacity="0.8" fill-opacity="0.78"/>
<circle cx="154.5" cy="242.1" r="7.2" fill="#93a02c" stroke="#b9d660" stroke-width="0.7" stroke-opacity="0.8" fill-opacity="0.78"/>
<circle cx="130.4" cy="231" r="7.2" fill="#93a02c" stroke="#b9d660" stroke-width="0.7" stroke-opacity="0.8" fill-opacity="0.78"/>
<circle cx="138.7" cy="230.9" r="7.2" fill="#93a02c" stroke="#b9d660" stroke-width="0.7" stroke-opacity="0.8" fill-opacity="0.78"/>
<circle cx="132.2" cy="244" r="7.2" fill="#93a02c" stroke="#b9d660" stroke-width="0.7" stroke-opacity="0.8" fill-opacity="0.78"/>
<circle cx="149" cy="231" r="7.2" fill="#93a02c" stroke="#b9d660" stroke-width="0.7" stroke-opacity="0.8" fill-opacity="0.78"/>
<circle cx="141" cy="250.5" r="7.2" fill="#93a02c" stroke="#b9d660" stroke-width="0.7" stroke-opacity="0.8" fill-opacity="0.78"/>
<circle cx="154.6" cy="242" r="7.2" fill="#93a02c" stroke="#b9d660" stroke-width="0.7" stroke-opacity="0.8" fill-opacity="0.78"/>
<circle cx="158.3" cy="260.7" r="7.2" fill="#93a02c" stroke="#b9d660" stroke-width="0.7" stroke-opacity="0.8" fill-opacity="0.78"/>
<circle cx="174.1" cy="269.1" r="7.2" fill="#93a02c" stroke="#b9d660" stroke-width="0.7" stroke-opacity="0.8" fill-opacity="0.78"/>
<circle cx="186.2" cy="270" r="7.2" fill="#93a02c" stroke="#b9d660" stroke-width="0.7" stroke-opacity="0.8" fill-opacity="0.78"/>
<circle cx="150" cy="251" r="7.2" fill="#93a02c" stroke="#b9d660" stroke-width="0.7" stroke-opacity="0.8" fill-opacity="0.78"/></g>
<circle cx="176.9" cy="165.3" r="7.4" fill="#e2333c" stroke="#f5b9bd" stroke-width="1" fill-opacity="0.92"/>
<circle cx="158.7" cy="171.6" r="7.4" fill="#e2434f" stroke="#f2b9c0" stroke-width="1" fill-opacity="0.82"/>
<circle cx="188.5" cy="176.5" r="7.4" fill="#e2333c" stroke="#f5b9bd" stroke-width="1" fill-opacity="0.92"/>
<circle cx="179.7" cy="178.7" r="7.4" fill="#e2333c" stroke="#f5b9bd" stroke-width="1" fill-opacity="0.92"/>
<circle cx="178.8" cy="187.1" r="7.4" fill="#e2434f" stroke="#f2b9c0" stroke-width="1" fill-opacity="0.82"/>
<circle cx="162.4" cy="198.2" r="7.4" fill="#f01818" stroke="#ffc9c4" stroke-width="1"/>
<circle cx="157.4" cy="202" r="7.4" fill="#f01818" stroke="#ffc9c4" stroke-width="1"/>
<circle cx="165.7" cy="203.8" r="7.4" fill="#f01818" stroke="#ffc9c4" stroke-width="1"/>
<circle cx="160.5" cy="210.5" r="7.4" fill="#f01818" stroke="#ffc9c4" stroke-width="1"/>
<circle cx="163.9" cy="218.7" r="7.4" fill="#f01818" stroke="#ffc9c4" stroke-width="1"/>
<circle cx="182.9" cy="216.5" r="7.4" fill="#f01818" stroke="#ffc9c4" stroke-width="1"/>
<circle cx="218.6" cy="216.9" r="7.4" fill="#f01818" stroke="#ffc9c4" stroke-width="1"/>
<circle cx="222.3" cy="220.6" r="7.4" fill="#f01818" stroke="#ffc9c4" stroke-width="1"/>
<circle cx="227.9" cy="222.5" r="7.4" fill="#f01818" stroke="#ffc9c4" stroke-width="1"/>
<circle cx="214.9" cy="227.1" r="7.4" fill="#f01818" stroke="#ffc9c4" stroke-width="1"/>
<circle cx="246.6" cy="220.6" r="7.4" fill="#f01818" stroke="#ffc9c4" stroke-width="1"/>
<circle cx="236.3" cy="227.1" r="7.4" fill="#f01818" stroke="#ffc9c4" stroke-width="1"/>
<circle cx="241.9" cy="233.6" r="7.4" fill="#e2434f" stroke="#f2b9c0" stroke-width="1" fill-opacity="0.82"/>
<circle cx="235.4" cy="237.4" r="7.4" fill="#f01818" stroke="#ffc9c4" stroke-width="1"/>
<circle cx="190" cy="252.3" r="7.4" fill="#f01818" stroke="#ffc9c4" stroke-width="1"/>
<circle cx="197.4" cy="259.8" r="7.4" fill="#f01818" stroke="#ffc9c4" stroke-width="1"/>
<circle cx="217.9" cy="262.6" r="7.4" fill="#f01818" stroke="#ffc9c4" stroke-width="1"/>
<circle cx="201.1" cy="267.2" r="7.4" fill="#f01818" stroke="#ffc9c4" stroke-width="1"/>
<circle cx="227.2" cy="277.5" r="7.4" fill="#f01818" stroke="#ffc9c4" stroke-width="1"/>
<circle cx="199.3" cy="284" r="7.4" fill="#f01818" stroke="#ffc9c4" stroke-width="1"/>
<circle cx="220.7" cy="283.1" r="7.4" fill="#f01818" stroke="#ffc9c4" stroke-width="1"/>
<circle cx="210.4" cy="289.6" r="7.4" fill="#f01818" stroke="#ffc9c4" stroke-width="1"/>
<circle cx="221.6" cy="291.5" r="7.4" fill="#f01818" stroke="#ffc9c4" stroke-width="1"/>
<circle cx="229" cy="294.2" r="7.4" fill="#f01818" stroke="#ffc9c4" stroke-width="1"/>
<circle cx="209.5" cy="275.6" r="7.4" fill="#f01818" stroke="#ffc9c4" stroke-width="1"/>
<circle cx="214" cy="270" r="7.4" fill="#f01818" stroke="#ffc9c4" stroke-width="1"/>
<circle cx="205" cy="280" r="7.4" fill="#f01818" stroke="#ffc9c4" stroke-width="1"/>
<circle cx="249.3" cy="271.9" r="7.4" fill="#f01818" stroke="#ffc9c4" stroke-width="1"/>
<g id="elec1" stroke-linecap="round">
<line x1="65.5" y1="147" x2="104.3" y2="176.8" stroke="#1212dc" stroke-width="2.3"/>
<line x1="149" y1="163.2" x2="163.9" y2="166.6" stroke="#1212dc" stroke-width="2.3"/>
<line x1="149.9" y1="199.2" x2="160.1" y2="229" stroke="#1212dc" stroke-width="2.3"/>
<line x1="52.5" y1="239.6" x2="65.2" y2="238.3" stroke="#1212dc" stroke-width="2.3"/>
<line x1="66.1" y1="274.7" x2="52.1" y2="301.3" stroke="#1212dc" stroke-width="2.3"/>
<line x1="212.3" y1="259.8" x2="217" y2="256" stroke="#1212dc" stroke-width="2.3"/>
<line x1="188" y1="276.6" x2="185.3" y2="291.5" stroke="#1212dc" stroke-width="2.3"/>
<line x1="223.5" y1="323.1" x2="233.1" y2="347.7" stroke="#1212dc" stroke-width="2.3"/>
<g filter="url(#soft)">
<circle cx="103.4" cy="177.8" r="4.84" fill="#28ecfc" fill-opacity="0.95"/>
<circle cx="148" cy="162.9" r="3.52" fill="#28ecfc" fill-opacity="0.95"/>
<circle cx="66.1" cy="238.7" r="4.4" fill="#28ecfc" fill-opacity="0.95"/>
<circle cx="68" cy="270" r="4.4" fill="#28ecfc" fill-opacity="0.95"/>
<circle cx="212.3" cy="259.8" r="3.96" fill="#28ecfc" fill-opacity="0.95"/>
<circle cx="185.3" cy="294.2" r="3.96" fill="#28ecfc" fill-opacity="0.95"/>
<circle cx="222.5" cy="318.5" r="3.96" fill="#28ecfc" fill-opacity="0.95"/>
</g>
</g>
<g id="ol2"><circle cx="571" cy="321" r="6.3" fill="#93a02c" stroke="#b9d660" stroke-width="0.7" stroke-opacity="0.8" fill-opacity="0.78"/>
<circle cx="577" cy="330" r="6.3" fill="#93a02c" stroke="#b9d660" stroke-width="0.7" stroke-opacity="0.8" fill-opacity="0.78"/>
<circle cx="567" cy="335" r="6.3" fill="#93a02c" stroke="#b9d660" stroke-width="0.7" stroke-opacity="0.8" fill-opacity="0.78"/></g>
<circle cx="591.5" cy="109.1" r="7.2" fill="#e2333c" stroke="#f5b9bd" stroke-width="1" fill-opacity="0.92"/>
<circle cx="611.4" cy="105.8" r="7.2" fill="#e2333c" stroke="#f5b9bd" stroke-width="1" fill-opacity="0.92"/>
<circle cx="550.2" cy="287" r="7.2" fill="#e2434f" stroke="#f2b9c0" stroke-width="1" fill-opacity="0.82"/>
<circle cx="605" cy="296.7" r="7.2" fill="#f01818" stroke="#ffc9c4" stroke-width="1"/>
<circle cx="608.9" cy="303.6" r="7.2" fill="#f01818" stroke="#ffc9c4" stroke-width="1"/>
<circle cx="617.8" cy="315.6" r="7.2" fill="#f01818" stroke="#ffc9c4" stroke-width="1"/>
<circle cx="585.9" cy="322.7" r="7.2" fill="#f01818" stroke="#ffc9c4" stroke-width="1"/>
<circle cx="596.1" cy="317.6" r="7.2" fill="#e2434f" stroke="#f2b9c0" stroke-width="1" fill-opacity="0.82"/>
<circle cx="593.6" cy="330.4" r="7.2" fill="#f01818" stroke="#ffc9c4" stroke-width="1"/>
<circle cx="612.7" cy="331.7" r="7.2" fill="#e2434f" stroke="#f2b9c0" stroke-width="1" fill-opacity="0.82"/>
<circle cx="634.4" cy="315.1" r="7.2" fill="#e2434f" stroke="#f2b9c0" stroke-width="1" fill-opacity="0.82"/>
<circle cx="631.8" cy="322.7" r="7.2" fill="#e2434f" stroke="#f2b9c0" stroke-width="1" fill-opacity="0.82"/>
<circle cx="629.3" cy="334.2" r="7.2" fill="#e2434f" stroke="#f2b9c0" stroke-width="1" fill-opacity="0.82"/>
<circle cx="649.7" cy="310" r="7.2" fill="#f01818" stroke="#ffc9c4" stroke-width="1"/>
<circle cx="659.9" cy="311.2" r="7.2" fill="#e2434f" stroke="#f2b9c0" stroke-width="1" fill-opacity="0.82"/>
<circle cx="661.2" cy="318.9" r="7.2" fill="#f01818" stroke="#ffc9c4" stroke-width="1"/>
<circle cx="651" cy="325.3" r="7.2" fill="#f01818" stroke="#ffc9c4" stroke-width="1"/>
<circle cx="658.6" cy="326.5" r="7.2" fill="#f01818" stroke="#ffc9c4" stroke-width="1"/>
<circle cx="672.7" cy="316.3" r="7.2" fill="#e2434f" stroke="#f2b9c0" stroke-width="1" fill-opacity="0.82"/>
<circle cx="680.3" cy="307.4" r="7.2" fill="#e2434f" stroke="#f2b9c0" stroke-width="1" fill-opacity="0.82"/>
<circle cx="675.2" cy="331.7" r="7.2" fill="#f01818" stroke="#ffc9c4" stroke-width="1"/>
<circle cx="665" cy="338" r="7.2" fill="#e2434f" stroke="#f2b9c0" stroke-width="1" fill-opacity="0.82"/>
<circle cx="644.6" cy="338" r="7.2" fill="#e2434f" stroke="#f2b9c0" stroke-width="1" fill-opacity="0.82"/>
<circle cx="640" cy="327" r="7.2" fill="#e2434f" stroke="#f2b9c0" stroke-width="1" fill-opacity="0.82"/>
<circle cx="622" cy="340" r="7.2" fill="#e2434f" stroke="#f2b9c0" stroke-width="1" fill-opacity="0.82"/>
<circle cx="603" cy="338" r="7.2" fill="#e2434f" stroke="#f2b9c0" stroke-width="1" fill-opacity="0.82"/>
<g id="elec2" stroke-linecap="round">
<line x1="499.9" y1="223.2" x2="481.3" y2="375" stroke="#1212dc" stroke-width="2.4"/>
<line x1="523.9" y1="212.5" x2="482" y2="375" stroke="#1212dc" stroke-width="2.4"/>
<line x1="537.9" y1="209.9" x2="496.1" y2="375" stroke="#1212dc" stroke-width="2.4"/>
<line x1="536.9" y1="213" x2="532.3" y2="384.5" stroke="#1212dc" stroke-width="2.4"/>
<line x1="552" y1="215.5" x2="545.8" y2="385.3" stroke="#1212dc" stroke-width="2.4"/>
<line x1="579.5" y1="209.9" x2="593" y2="389.1" stroke="#1212dc" stroke-width="2.4"/>
<line x1="589.7" y1="353" x2="579.5" y2="407" stroke="#1212dc" stroke-width="2.4"/>
<line x1="615.8" y1="256.9" x2="617.3" y2="414.1" stroke="#1212dc" stroke-width="2.4"/>
<line x1="639.5" y1="287" x2="646.6" y2="418.4" stroke="#1212dc" stroke-width="2.4"/>
<line x1="652.8" y1="262.7" x2="662.5" y2="403.1" stroke="#1212dc" stroke-width="2.4"/>
<g clip-path="url(#cp2)" stroke="#cfd1ea" stroke-opacity="0.42" stroke-width="3">
<line x1="499.9" y1="223.2" x2="481.3" y2="375"/>
<line x1="523.9" y1="212.5" x2="482" y2="375"/>
<line x1="537.9" y1="209.9" x2="496.1" y2="375"/>
<line x1="536.9" y1="213" x2="532.3" y2="384.5"/>
<line x1="552" y1="215.5" x2="545.8" y2="385.3"/>
<line x1="579.5" y1="209.9" x2="593" y2="389.1"/>
<line x1="589.7" y1="353" x2="579.5" y2="407"/>
<line x1="615.8" y1="256.9" x2="617.3" y2="414.1"/>
<line x1="639.5" y1="287" x2="646.6" y2="418.4"/>
<line x1="652.8" y1="262.7" x2="662.5" y2="403.1"/>
</g>
<ellipse cx="499.6" cy="226" rx="4.3" ry="4.1" fill="#7fdcf0" fill-opacity="0.6"/>
<ellipse cx="498.6" cy="233.5" rx="4.3" ry="4.1" fill="#7fdcf0" fill-opacity="0.6"/>
<ellipse cx="497.7" cy="241" rx="4.3" ry="4.1" fill="#7fdcf0" fill-opacity="0.6"/>
<ellipse cx="496.8" cy="248.5" rx="4.3" ry="4.1" fill="#7fdcf0" fill-opacity="0.6"/>
<circle cx="499.6" cy="226" r="1.2" fill="#2a55c8" fill-opacity="0.5"/>
<circle cx="498.6" cy="233.5" r="1.2" fill="#2a55c8" fill-opacity="0.5"/>
<circle cx="497.7" cy="241" r="1.2" fill="#2a55c8" fill-opacity="0.5"/>
<circle cx="496.8" cy="248.5" r="1.2" fill="#2a55c8" fill-opacity="0.5"/>
<ellipse cx="522.5" cy="218" rx="4.3" ry="4.1" fill="#28ecfc" fill-opacity="0.9"/>
<ellipse cx="520.7" cy="225" rx="4.3" ry="4.1" fill="#28ecfc" fill-opacity="0.9"/>
<ellipse cx="518.9" cy="232" rx="4.3" ry="4.1" fill="#28ecfc" fill-opacity="0.9"/>
<circle cx="522.5" cy="218" r="1.2" fill="#2a55c8" fill-opacity="0.85"/>
<circle cx="520.7" cy="225" r="1.2" fill="#2a55c8" fill-opacity="0.85"/>
<circle cx="518.9" cy="232" r="1.2" fill="#2a55c8" fill-opacity="0.85"/>
<ellipse cx="536.2" cy="216.5" rx="4.3" ry="4.1" fill="#28ecfc" fill-opacity="0.9"/>
<ellipse cx="534.5" cy="223.5" rx="4.3" ry="4.1" fill="#28ecfc" fill-opacity="0.9"/>
<ellipse cx="532.7" cy="230.5" rx="4.3" ry="4.1" fill="#28ecfc" fill-opacity="0.9"/>
<ellipse cx="531" cy="237" rx="4.3" ry="4.1" fill="#28ecfc" fill-opacity="0.9"/>
<circle cx="536.2" cy="216.5" r="1.2" fill="#2a55c8" fill-opacity="0.85"/>
<circle cx="534.5" cy="223.5" r="1.2" fill="#2a55c8" fill-opacity="0.85"/>
<circle cx="532.7" cy="230.5" r="1.2" fill="#2a55c8" fill-opacity="0.85"/>
<circle cx="531" cy="237" r="1.2" fill="#2a55c8" fill-opacity="0.85"/>
<ellipse cx="551.8" cy="222" rx="4.3" ry="4.1" fill="#28ecfc" fill-opacity="0.9"/>
<ellipse cx="551.5" cy="229" rx="4.3" ry="4.1" fill="#28ecfc" fill-opacity="0.9"/>
<ellipse cx="551.3" cy="236" rx="4.3" ry="4.1" fill="#28ecfc" fill-opacity="0.9"/>
<ellipse cx="551" cy="243" rx="4.3" ry="4.1" fill="#28ecfc" fill-opacity="0.9"/>
<circle cx="551.8" cy="222" r="1.2" fill="#2a55c8" fill-opacity="0.85"/>
<circle cx="551.5" cy="229" r="1.2" fill="#2a55c8" fill-opacity="0.85"/>
<circle cx="551.3" cy="236" r="1.2" fill="#2a55c8" fill-opacity="0.85"/>
<circle cx="551" cy="243" r="1.2" fill="#2a55c8" fill-opacity="0.85"/>
<ellipse cx="580" cy="216.5" rx="4.3" ry="4.1" fill="#28ecfc" fill-opacity="0.9"/>
<ellipse cx="580.5" cy="223.5" rx="4.3" ry="4.1" fill="#28ecfc" fill-opacity="0.9"/>
<ellipse cx="581" cy="230" rx="4.3" ry="4.1" fill="#28ecfc" fill-opacity="0.9"/>
<circle cx="580" cy="216.5" r="1.2" fill="#2a55c8" fill-opacity="0.85"/>
<circle cx="580.5" cy="223.5" r="1.2" fill="#2a55c8" fill-opacity="0.85"/>
<circle cx="581" cy="230" r="1.2" fill="#2a55c8" fill-opacity="0.85"/>
<ellipse cx="615.8" cy="261" rx="4.3" ry="4.1" fill="#28ecfc" fill-opacity="0.9"/>
<ellipse cx="615.9" cy="268" rx="4.3" ry="4.1" fill="#28ecfc" fill-opacity="0.9"/>
<ellipse cx="616" cy="275" rx="4.3" ry="4.1" fill="#28ecfc" fill-opacity="0.9"/>
<ellipse cx="616" cy="282" rx="4.3" ry="4.1" fill="#28ecfc" fill-opacity="0.9"/>
<circle cx="615.8" cy="261" r="1.2" fill="#2a55c8" fill-opacity="0.85"/>
<circle cx="615.9" cy="268" r="1.2" fill="#2a55c8" fill-opacity="0.85"/>
<circle cx="616" cy="275" r="1.2" fill="#2a55c8" fill-opacity="0.85"/>
<circle cx="616" cy="282" r="1.2" fill="#2a55c8" fill-opacity="0.85"/>
<ellipse cx="653.1" cy="267" rx="4.3" ry="4.1" fill="#28ecfc" fill-opacity="0.9"/>
<ellipse cx="653.6" cy="274" rx="4.3" ry="4.1" fill="#28ecfc" fill-opacity="0.9"/>
<ellipse cx="654.1" cy="281" rx="4.3" ry="4.1" fill="#28ecfc" fill-opacity="0.9"/>
<ellipse cx="654.5" cy="288" rx="4.3" ry="4.1" fill="#28ecfc" fill-opacity="0.9"/>
<circle cx="653.1" cy="267" r="1.2" fill="#2a55c8" fill-opacity="0.85"/>
<circle cx="653.6" cy="274" r="1.2" fill="#2a55c8" fill-opacity="0.85"/>
<circle cx="654.1" cy="281" r="1.2" fill="#2a55c8" fill-opacity="0.85"/>
<circle cx="654.5" cy="288" r="1.2" fill="#2a55c8" fill-opacity="0.85"/>
<circle cx="494.8" cy="321.4" r="5" fill="#28ecfc" fill-opacity="0.9"/>
</g>
<g transform="translate(885,0)"><use href="#base1"/><circle cx="114.2" cy="194.8" r="7.4" fill="#f01818" stroke="#ffc9c4" stroke-width="1"/>
<circle cx="163" cy="273" r="7.4" fill="#f01818" stroke="#ffc9c4" stroke-width="1"/><use href="#green1"/><circle cx="128.3" cy="208.9" r="7.2" fill="#93a02c" stroke="#b9d660" stroke-width="0.7" stroke-opacity="0.8" fill-opacity="0.78"/>
<circle cx="141.4" cy="233.1" r="7.2" fill="#93a02c" stroke="#b9d660" stroke-width="0.7" stroke-opacity="0.8" fill-opacity="0.78"/>
<circle cx="128.3" cy="233.1" r="7.2" fill="#93a02c" stroke="#b9d660" stroke-width="0.7" stroke-opacity="0.8" fill-opacity="0.78"/>
<circle cx="154.4" cy="253.6" r="7.2" fill="#93a02c" stroke="#b9d660" stroke-width="0.7" stroke-opacity="0.8" fill-opacity="0.78"/>
<circle cx="167.4" cy="253.6" r="7.2" fill="#93a02c" stroke="#b9d660" stroke-width="0.7" stroke-opacity="0.8" fill-opacity="0.78"/>
<circle cx="178.6" cy="255.5" r="7.2" fill="#93a02c" stroke="#b9d660" stroke-width="0.7" stroke-opacity="0.8" fill-opacity="0.78"/>
<circle cx="180.5" cy="266.6" r="7.2" fill="#93a02c" stroke="#b9d660" stroke-width="0.7" stroke-opacity="0.8" fill-opacity="0.78"/>
<circle cx="167.4" cy="233.1" r="7.2" fill="#93a02c" stroke="#b9d660" stroke-width="0.7" stroke-opacity="0.8" fill-opacity="0.78"/></g>
<circle cx="1021.9" cy="162.4" r="7.4" fill="#e2434f" stroke="#f2b9c0" stroke-width="1" fill-opacity="0.82"/>
<circle cx="1033.8" cy="166.1" r="7.4" fill="#e2434f" stroke="#f2b9c0" stroke-width="1" fill-opacity="0.82"/>
<circle cx="1051.3" cy="174.7" r="7.4" fill="#f01818" stroke="#ffc9c4" stroke-width="1"/>
<circle cx="1051.3" cy="199.6" r="7.4" fill="#f01818" stroke="#ffc9c4" stroke-width="1"/>
<circle cx="1063.6" cy="198.5" r="7.4" fill="#f01818" stroke="#ffc9c4" stroke-width="1"/>
<circle cx="1051.3" cy="211.9" r="7.4" fill="#f01818" stroke="#ffc9c4" stroke-width="1"/>
<circle cx="1062.9" cy="211.9" r="7.4" fill="#f01818" stroke="#ffc9c4" stroke-width="1"/>
<circle cx="1074" cy="210.8" r="7.4" fill="#f01818" stroke="#ffc9c4" stroke-width="1"/>
<circle cx="1087.1" cy="210.8" r="7.4" fill="#f01818" stroke="#ffc9c4" stroke-width="1"/>
<circle cx="1097.1" cy="211.9" r="7.4" fill="#f01818" stroke="#ffc9c4" stroke-width="1"/>
<circle cx="1110.9" cy="210.8" r="7.4" fill="#f01818" stroke="#ffc9c4" stroke-width="1"/>
<circle cx="1087.8" cy="222" r="7.4" fill="#f01818" stroke="#ffc9c4" stroke-width="1"/>
<circle cx="1100.1" cy="222.7" r="7.4" fill="#e2434f" stroke="#f2b9c0" stroke-width="1" fill-opacity="0.82"/>
<circle cx="1112" cy="222.7" r="7.4" fill="#f01818" stroke="#ffc9c4" stroke-width="1"/>
<circle cx="1122.4" cy="222.7" r="7.4" fill="#f01818" stroke="#ffc9c4" stroke-width="1"/>
<circle cx="1122.4" cy="234.2" r="7.4" fill="#f01818" stroke="#ffc9c4" stroke-width="1"/>
<circle cx="1147.4" cy="236.1" r="7.4" fill="#e2434f" stroke="#f2b9c0" stroke-width="1" fill-opacity="0.82"/>
<circle cx="1169" cy="261" r="7.4" fill="#e2434f" stroke="#f2b9c0" stroke-width="1" fill-opacity="0.82"/>
<circle cx="1158.5" cy="271.1" r="7.4" fill="#f01818" stroke="#ffc9c4" stroke-width="1"/>
<circle cx="1124.3" cy="285.2" r="7.4" fill="#e2434f" stroke="#f2b9c0" stroke-width="1" fill-opacity="0.82"/>
<circle cx="1125.4" cy="294.5" r="7.4" fill="#e2434f" stroke="#f2b9c0" stroke-width="1" fill-opacity="0.82"/>
<circle cx="1169.7" cy="292.7" r="7.4" fill="#f01818" stroke="#ffc9c4" stroke-width="1"/>
<circle cx="1172.7" cy="316.1" r="7.4" fill="#f01818" stroke="#ffc9c4" stroke-width="1"/>
<circle cx="1089.7" cy="268.5" r="7.4" fill="#f01818" stroke="#ffc9c4" stroke-width="1"/>
<circle cx="1100.8" cy="269.2" r="7.4" fill="#f01818" stroke="#ffc9c4" stroke-width="1"/>
<circle cx="1078.5" cy="264.8" r="7.4" fill="#f01818" stroke="#ffc9c4" stroke-width="1"/>
<circle cx="1074.8" cy="303.9" r="7.4" fill="#e2434f" stroke="#f2b9c0" stroke-width="1" fill-opacity="0.82"/>
<circle cx="1113.9" cy="336.2" r="7.4" fill="#e2434f" stroke="#f2b9c0" stroke-width="1" fill-opacity="0.82"/>
<use href="#elec1" transform="translate(885,0)"/>
<g transform="translate(886,0)"><use href="#base2"/><use href="#green2"/><circle cx="572.5" cy="314.1" r="6.5" fill="#93a02c" stroke="#b9d660" stroke-width="0.7" stroke-opacity="0.8" fill-opacity="0.78"/>
<circle cx="585.6" cy="337.5" r="6.5" fill="#93a02c" stroke="#b9d660" stroke-width="0.7" stroke-opacity="0.8" fill-opacity="0.78"/></g>
<circle cx="1479.6" cy="108.9" r="7.2" fill="#e2333c" stroke="#f5b9bd" stroke-width="1" fill-opacity="0.92"/>
<circle cx="1508.9" cy="157.3" r="7.2" fill="#e2333c" stroke="#f5b9bd" stroke-width="1" fill-opacity="0.92"/>
<circle cx="1466" cy="174.2" r="7.2" fill="#e2333c" stroke="#f5b9bd" stroke-width="1" fill-opacity="0.92"/>
<circle cx="1601.9" cy="199.8" r="7.2" fill="#f01818" stroke="#ffc9c4" stroke-width="1"/>
<circle cx="1591.4" cy="209" r="7.2" fill="#e2434f" stroke="#f2b9c0" stroke-width="1" fill-opacity="0.82"/>
<circle cx="1590.1" cy="236.1" r="7.2" fill="#f01818" stroke="#ffc9c4" stroke-width="1"/>
<circle cx="1605.2" cy="235.5" r="7.2" fill="#e2434f" stroke="#f2b9c0" stroke-width="1" fill-opacity="0.82"/>
<circle cx="1602.3" cy="249.4" r="7.2" fill="#f01818" stroke="#ffc9c4" stroke-width="1"/>
<circle cx="1432" cy="238.6" r="7.2" fill="#f01818" stroke="#ffc9c4" stroke-width="1"/>
<circle cx="1433.2" cy="259.5" r="7.2" fill="#f01818" stroke="#ffc9c4" stroke-width="1"/>
<circle cx="1431.2" cy="273.2" r="7.2" fill="#e2434f" stroke="#f2b9c0" stroke-width="1" fill-opacity="0.82"/>
<circle cx="1445.1" cy="277" r="7.2" fill="#f01818" stroke="#ffc9c4" stroke-width="1"/>
<circle cx="1454.4" cy="290.1" r="7.2" fill="#f01818" stroke="#ffc9c4" stroke-width="1"/>
<circle cx="1467.8" cy="288.3" r="7.2" fill="#e2434f" stroke="#f2b9c0" stroke-width="1" fill-opacity="0.82"/>
<circle cx="1483.7" cy="288.3" r="7.2" fill="#f01818" stroke="#ffc9c4" stroke-width="1"/>
<circle cx="1445.1" cy="302.7" r="7.2" fill="#e2434f" stroke="#f2b9c0" stroke-width="1" fill-opacity="0.82"/>
<circle cx="1481.7" cy="301" r="7.2" fill="#e2434f" stroke="#f2b9c0" stroke-width="1" fill-opacity="0.82"/>
<circle cx="1494.8" cy="302.7" r="7.2" fill="#f01818" stroke="#ffc9c4" stroke-width="1"/>
<circle cx="1507.4" cy="301.5" r="7.2" fill="#f01818" stroke="#ffc9c4" stroke-width="1"/>
<circle cx="1483.7" cy="315.3" r="7.2" fill="#e2434f" stroke="#f2b9c0" stroke-width="1" fill-opacity="0.82"/>
<circle cx="1505.6" cy="315.3" r="7.2" fill="#f01818" stroke="#ffc9c4" stroke-width="1"/>
<circle cx="1504.3" cy="321.1" r="7.2" fill="#f01818" stroke="#ffc9c4" stroke-width="1"/>
<circle cx="1522" cy="312.3" r="7.2" fill="#e2434f" stroke="#f2b9c0" stroke-width="1" fill-opacity="0.82"/>
<circle cx="1518.2" cy="326.2" r="7.2" fill="#f01818" stroke="#ffc9c4" stroke-width="1"/>
<circle cx="1530.3" cy="324.9" r="7.2" fill="#f01818" stroke="#ffc9c4" stroke-width="1"/>
<circle cx="1533.3" cy="307.3" r="7.2" fill="#e2434f" stroke="#f2b9c0" stroke-width="1" fill-opacity="0.82"/>
<circle cx="1542.2" cy="302.7" r="7.2" fill="#f01818" stroke="#ffc9c4" stroke-width="1"/>
<circle cx="1553.5" cy="301" r="7.2" fill="#f01818" stroke="#ffc9c4" stroke-width="1"/>
<circle cx="1552.3" cy="313.1" r="7.2" fill="#f01818" stroke="#ffc9c4" stroke-width="1"/>
<circle cx="1542.2" cy="316.1" r="7.2" fill="#e2434f" stroke="#f2b9c0" stroke-width="1" fill-opacity="0.82"/>
<circle cx="1543.4" cy="325.7" r="7.2" fill="#f01818" stroke="#ffc9c4" stroke-width="1"/>
<circle cx="1557.3" cy="261.1" r="7.2" fill="#f01818" stroke="#ffc9c4" stroke-width="1"/>
<circle cx="1556.8" cy="274.5" r="7.2" fill="#f01818" stroke="#ffc9c4" stroke-width="1"/>
<circle cx="1547.2" cy="272" r="7.2" fill="#e2434f" stroke="#f2b9c0" stroke-width="1" fill-opacity="0.82"/>
<circle cx="1580" cy="277.5" r="7.2" fill="#f01818" stroke="#ffc9c4" stroke-width="1"/>
<circle cx="1484.2" cy="338" r="7.2" fill="#e2434f" stroke="#f2b9c0" stroke-width="1" fill-opacity="0.82"/>
<circle cx="1494.8" cy="340" r="7.2" fill="#f01818" stroke="#ffc9c4" stroke-width="1"/>
<circle cx="1508.1" cy="338.8" r="7.2" fill="#e2434f" stroke="#f2b9c0" stroke-width="1" fill-opacity="0.82"/>
<circle cx="1519" cy="350.1" r="7.2" fill="#e2434f" stroke="#f2b9c0" stroke-width="1" fill-opacity="0.82"/>
<circle cx="1494.3" cy="351.4" r="7.2" fill="#e2434f" stroke="#f2b9c0" stroke-width="1" fill-opacity="0.82"/>
<use href="#elec2" transform="translate(886,0)"/>
</g>
<line x1="860.5" y1="27" x2="860.5" y2="371" stroke="#9a9a9a" stroke-width="1.8" stroke-dasharray="4.2 2.4"/>
<text x="13.6" y="29" font-size="50" font-weight="bold">a</text>
<text x="396.4" y="30" font-size="40" font-weight="bold" text-anchor="middle">AMSI</text>
<text x="1291.4" y="30" font-size="40" font-weight="bold" text-anchor="middle">Manual</text>
<circle cx="324.9" cy="430.7" r="9.5" fill="#12eef0"/><circle cx="343.8" cy="430.9" r="9.4" fill="#12eef0"/>
<path d="M289.3,429.2 L324.6,430.4 M335.7,430.7 L343.8,430.9 M353.6,431 L372.8,431.6" stroke="#1a08d0" stroke-width="3.7" fill="none"/>
<text x="395.6" y="446.4" font-size="31.6" font-weight="bold">SEEG contacts with EDs</text>
<rect x="842" y="421.5" width="38" height="27.8" fill="#12f012"/>
<text x="897" y="446.4" font-size="31.6" font-weight="bold">Resection</text>
<circle cx="1121" cy="433.8" r="11.8" fill="#f80808"/>
<text x="1182.5" y="446.4" font-size="31.6" font-weight="bold">IED localization</text>
<g id="panelb">
<path d="M271.5,861.8 A63.1,63.1 0 0 1 397.7,861.8" fill="none" stroke="#c4c4c4" stroke-width="1.1"/>
<path d="M208.4,861.8 A126.2,126.2 0 0 1 460.9,861.8" fill="none" stroke="#c4c4c4" stroke-width="1.1"/>
<path d="M145.2,861.8 A189.4,189.4 0 0 1 524,861.8" fill="none" stroke="#c4c4c4" stroke-width="1.1"/>
<path d="M334.6,861.8 L116.7,771.1 A236,236 0 0 0 98.8,851.1 Z" fill="#4cb9c5"/>
<path d="M334.6,861.8 L163.9,707.6 A230,230 0 0 0 122,774.2 Z" fill="#ef7a6d"/>
<path d="M334.6,861.8 L256.7,672.8 A204.4,204.4 0 0 0 196.8,710.9 Z" fill="#4cb9c5"/>
<path d="M334.6,861.8 L325.3,679 A183,183 0 0 0 264.3,692.9 Z" fill="#ef7a6d"/>
<path d="M334.6,861.8 L399.2,706.7 A168,168 0 0 0 342.2,694 Z" fill="#4cb9c5"/>
<path d="M334.6,861.8 L438.5,746.8 A155,155 0 0 0 393.7,718.5 Z" fill="#ef7a6d"/>
<path d="M334.6,861.8 L432,821.6 A105.4,105.4 0 0 0 412.4,790.7 Z" fill="#4cb9c5"/>
<path d="M334.6,861.8 L422,857.4 A87.5,87.5 0 0 0 415.4,828.2 Z" fill="#ef7a6d"/>
<path d="M271.5,861.8 A63.1,63.1 0 0 1 397.7,861.8" fill="none" stroke="#ffffff" stroke-opacity="0.14" stroke-width="1.3"/>
<path d="M208.4,861.8 A126.2,126.2 0 0 1 460.9,861.8" fill="none" stroke="#ffffff" stroke-opacity="0.14" stroke-width="1.3"/>
<path d="M145.2,861.8 A189.4,189.4 0 0 1 524,861.8" fill="none" stroke="#ffffff" stroke-opacity="0.14" stroke-width="1.3"/>
<g fill="none" stroke="#000" stroke-width="2.1">
<path d="M32.1,861.8 A302.5,302.5 0 0 1 637.1,861.8"/>
<path d="M82.1,861.8 A252.5,252.5 0 0 1 587.1,861.8"/>
<line x1="31.1" y1="861.8" x2="638.1" y2="861.8" stroke-width="2.4"/>
<line x1="334.6" y1="861.8" x2="548.5" y2="647.9"/>
<line x1="334.6" y1="861.8" x2="334.6" y2="559.3"/>
<line x1="334.6" y1="861.8" x2="120.7" y2="647.9"/>
</g>
<text x="355.5" y="631.9" font-size="23" font-weight="bold" text-anchor="end">100%</text>
<text x="355.5" y="695" font-size="23" font-weight="bold" text-anchor="end">75%</text>
<text x="355.5" y="758.1" font-size="23" font-weight="bold" text-anchor="end">50%</text>
<text x="355.5" y="821.3" font-size="23" font-weight="bold" text-anchor="end">25%</text>
<defs>
<path id="arcA0" d="M57.1,861.8 A277.5,277.5 0 0 1 138.4,665.6" fill="none"/>
<path id="arcB0" d="M78.1,861.8 A256.5,256.5 0 0 1 153.2,680.4" fill="none"/>
<path id="arcA1" d="M138.4,665.6 A277.5,277.5 0 0 1 334.6,584.3" fill="none"/>
<path id="arcB1" d="M153.2,680.4 A256.5,256.5 0 0 1 334.6,605.3" fill="none"/>
<path id="arcA2" d="M334.6,584.3 A277.5,277.5 0 0 1 530.8,665.6" fill="none"/>
<path id="arcB2" d="M334.6,605.3 A256.5,256.5 0 0 1 516,680.4" fill="none"/>
<path id="arcA3" d="M530.8,665.6 A277.5,277.5 0 0 1 612.1,861.8" fill="none"/>
<path id="arcB3" d="M516,680.4 A256.5,256.5 0 0 1 591.1,861.8" fill="none"/>
</defs>
<text font-size="23" font-weight="bold" font-style="italic" text-anchor="middle" word-spacing="0"><textPath href="#arcA0" startOffset="50%">Hemisphere (ns)</textPath></text>
<text font-size="18" font-style="italic" text-anchor="middle" stroke="#000" stroke-width="0.3"><textPath href="#arcB0" startOffset="50%">(p = 0.688)</textPath></text>
<text font-size="23" font-weight="bold" text-anchor="middle" word-spacing="5"><textPath href="#arcA1" startOffset="48.6%">Lobar (ns)</textPath></text>
<text font-size="18" text-anchor="middle" stroke="#000" stroke-width="0.3"><textPath href="#arcB1" startOffset="48.6%">(p = 0.123)</textPath></text>
<text font-size="23" font-weight="bold" font-style="italic" text-anchor="middle" word-spacing="5"><textPath href="#arcA2" startOffset="49.2%">Medial-lateral (ns)</textPath></text>
<text font-size="18" font-style="italic" text-anchor="middle" stroke="#000" stroke-width="0.3"><textPath href="#arcB2" startOffset="49.2%">(p = 0.519)</textPath></text>
<text font-size="23" font-weight="bold" text-anchor="middle" word-spacing="0"><textPath href="#arcA3" startOffset="52%">Sublobar (ns)</textPath></text>
<text font-size="18" text-anchor="middle" stroke="#000" stroke-width="0.3"><textPath href="#arcB3" startOffset="52%">(p = 0.455)</textPath></text>
<rect x="166.3" y="887.4" width="28.4" height="26" fill="#4cb9c5"/>
<text x="210.5" y="909" font-size="31.4" font-weight="bold">AMSI</text>
<rect x="369" y="887.4" width="28.6" height="26" fill="#ef7a6d"/>
<text x="413" y="909" font-size="31.4" font-weight="bold">Manual</text>
<text x="13.5" y="554" font-size="50" font-weight="bold">b</text>
</g>
<g>
<clipPath id="clipc"><rect x="753.5" y="566.8" width="404.6" height="309.3"/></clipPath>
<rect x="809" y="745.6" width="58.6" height="130.5" fill="#4cb9c5" stroke="#303030" stroke-width="1.9"/>
<rect x="997.1" y="740.4" width="58.3" height="135.7" fill="#ef7a6d" stroke="#303030" stroke-width="1.9"/>
<path d="M838.3,745.6 V689.2 M822.8,689.2 H853.8" stroke="#303030" stroke-width="1.9" fill="none"/>
<path d="M1026.4,740.4 V687.9 M1011.4,687.9 H1041.5" stroke="#303030" stroke-width="1.9" fill="none"/>
<g clip-path="url(#clipc)" fill="none" stroke="#333" stroke-width="2.5">
<path d="M881.4,623.7L882.1,627.4L882.8,631.1L883.7,634.8L884.6,638.5L885.6,642.2L886.7,645.8L887.8,649.5L889.1,653.2L890.4,656.9L891.8,660.6L893.3,664.3L894.9,668L896.5,671.7L898.1,675.4L899.8,679.1L901.6,682.8L903.3,686.5L905,690.1L906.8,693.8L908.5,697.5L910.1,701.2L911.7,704.9L913.2,708.6L914.7,712.3L916,716L917.1,719.7L918.2,723.4L919.1,727.1L919.8,730.7L920.3,734.4L920.7,738.1L920.9,741.8L920.9,745.5L920.7,749.2L920.3,752.9L919.8,756.6L919,760.3L918.1,764L917.1,767.7L915.9,771.4L914.6,775L913.2,778.7L911.7,782.4L910.1,786.1L908.4,789.8L906.7,793.5L905,797.2L903.2,800.9L901.5,804.6L899.8,808.3L898.1,812L896.4,815.7L894.8,819.3L893.3,823L891.8,826.7L890.4,830.4L889,834.1L887.8,837.8L886.6,841.5L885.5,845.2"/>
<path d="M1068.9,623.7L1069.6,627.4L1070.3,631.1L1071.1,634.8L1072.1,638.5L1073.1,642.2L1074.2,645.8L1075.4,649.5L1076.6,653.2L1078,656.9L1079.5,660.6L1081.1,664.3L1082.7,668L1084.4,671.7L1086.2,675.4L1088,679.1L1089.8,682.8L1091.7,686.5L1093.6,690.1L1095.4,693.8L1097.2,697.5L1099,701.2L1100.7,704.9L1102.3,708.6L1103.7,712.3L1105.1,716L1106.3,719.7L1107.3,723.4L1108.1,727.1L1108.8,730.7L1109.2,734.4L1109.5,738.1L1109.5,741.8L1109.3,745.5L1108.9,749.2L1108.3,752.9L1107.5,756.6L1106.5,760.3L1105.4,764L1104.1,767.7L1102.6,771.4L1101.1,775L1099.4,778.7L1097.7,782.4L1095.9,786.1L1094,789.8L1092.2,793.5L1090.3,797.2L1088.4,800.9L1086.6,804.6L1084.8,808.3L1083.1,812L1081.5,815.7L1079.9,819.3L1078.4,823L1077,826.7L1075.7,830.4L1074.4,834.1L1073.3,837.8L1072.3,841.5L1071.4,845.2"/>
</g>
<path d="M873.8,628.5 l4.1,-4.1 l4.1,4.1 l-4.1,4.1 Z" fill="#4fbac6"/>
<path d="M873.8,667.2 l4.1,-4.1 l4.1,4.1 l-4.1,4.1 Z" fill="#4fbac6"/>
<path d="M873.8,712.4 l4.1,-4.1 l4.1,4.1 l-4.1,4.1 Z" fill="#4fbac6"/>
<path d="M884.6,725.3 l4.1,-4.1 l4.1,4.1 l-4.1,4.1 Z" fill="#4fbac6"/>
<path d="M895.3,738.3 l4.1,-4.1 l4.1,4.1 l-4.1,4.1 Z" fill="#4fbac6"/>
<path d="M906.1,738.3 l4.1,-4.1 l4.1,4.1 l-4.1,4.1 Z" fill="#4fbac6"/>
<path d="M873.8,744.7 l4.1,-4.1 l4.1,4.1 l-4.1,4.1 Z" fill="#4fbac6"/>
<path d="M873.8,755 l4.1,-4.1 l4.1,4.1 l-4.1,4.1 Z" fill="#4fbac6"/>
<path d="M895.3,763.7 l4.1,-4.1 l4.1,4.1 l-4.1,4.1 Z" fill="#4fbac6"/>
<path d="M884.6,771.8 l4.1,-4.1 l4.1,4.1 l-4.1,4.1 Z" fill="#4fbac6"/>
<path d="M873.8,805.4 l4.1,-4.1 l4.1,4.1 l-4.1,4.1 Z" fill="#4fbac6"/>
<path d="M884.6,816.2 l4.1,-4.1 l4.1,4.1 l-4.1,4.1 Z" fill="#4fbac6"/>
<path d="M873.8,830.8 l4.1,-4.1 l4.1,4.1 l-4.1,4.1 Z" fill="#4fbac6"/>
<path d="M1061.9,649.1 l4.1,-4.1 l4.1,4.1 l-4.1,4.1 Z" fill="#f0796b"/>
<path d="M1061.9,680.1 l4.1,-4.1 l4.1,4.1 l-4.1,4.1 Z" fill="#f0796b"/>
<path d="M1072.7,680.1 l4.1,-4.1 l4.1,4.1 l-4.1,4.1 Z" fill="#f0796b"/>
<path d="M1061.9,697.8 l4.1,-4.1 l4.1,4.1 l-4.1,4.1 Z" fill="#f0796b"/>
<path d="M1072.7,708.1 l4.1,-4.1 l4.1,4.1 l-4.1,4.1 Z" fill="#f0796b"/>
<path d="M1061.9,749.4 l4.1,-4.1 l4.1,4.1 l-4.1,4.1 Z" fill="#f0796b"/>
<path d="M1061.9,755.9 l4.1,-4.1 l4.1,4.1 l-4.1,4.1 Z" fill="#f0796b"/>
<path d="M1083.5,757.6 l4.1,-4.1 l4.1,4.1 l-4.1,4.1 Z" fill="#f0796b"/>
<path d="M1072.7,773.1 l4.1,-4.1 l4.1,4.1 l-4.1,4.1 Z" fill="#f0796b"/>
<path d="M1094.2,773.1 l4.1,-4.1 l4.1,4.1 l-4.1,4.1 Z" fill="#f0796b"/>
<path d="M1072.7,787.8 l4.1,-4.1 l4.1,4.1 l-4.1,4.1 Z" fill="#f0796b"/>
<path d="M1061.9,795.9 l4.1,-4.1 l4.1,4.1 l-4.1,4.1 Z" fill="#f0796b"/>
<path d="M1061.9,821.3 l4.1,-4.1 l4.1,4.1 l-4.1,4.1 Z" fill="#f0796b"/>
<path d="M868,604.8 H1045.4 M868,595.3 V614.6 M1045.4,595.3 V614.6" stroke="#555" stroke-width="2.8" fill="none"/>
<text x="956.7" y="598.4" font-size="30" font-weight="bold" text-anchor="middle">ns</text>
<text x="957.2" y="630.9" font-size="18.4" font-weight="bold" text-anchor="middle" fill="#1a1a1a">p = 0.636</text>
<rect x="753.5" y="566.8" width="404.6" height="309.3" fill="none" stroke="#111" stroke-width="2.4"/>
<line x1="747.7" y1="876.1" x2="753.5" y2="876.1" stroke="#111" stroke-width="2.1"/>
<text x="742.2" y="883.1" font-size="21.3" font-weight="bold" text-anchor="end">0</text>
<line x1="747.7" y1="813" x2="753.5" y2="813" stroke="#111" stroke-width="2.1"/>
<text x="742.2" y="820" font-size="21.3" font-weight="bold" text-anchor="end">10</text>
<line x1="747.7" y1="749.9" x2="753.5" y2="749.9" stroke="#111" stroke-width="2.1"/>
<text x="742.2" y="756.9" font-size="21.3" font-weight="bold" text-anchor="end">20</text>
<line x1="747.7" y1="686.8" x2="753.5" y2="686.8" stroke="#111" stroke-width="2.1"/>
<text x="742.2" y="693.8" font-size="21.3" font-weight="bold" text-anchor="end">30</text>
<line x1="747.7" y1="623.7" x2="753.5" y2="623.7" stroke="#111" stroke-width="2.1"/>
<text x="742.2" y="630.7" font-size="21.3" font-weight="bold" text-anchor="end">40</text>
<line x1="875.8" y1="876.1" x2="875.8" y2="881.1" stroke="#111" stroke-width="1.8"/>
<line x1="1063.7" y1="876.1" x2="1063.7" y2="881.1" stroke="#111" stroke-width="1.8"/>
<text x="865.9" y="909.6" font-size="31" font-weight="bold" text-anchor="middle">AMSI</text>
<text x="1057" y="909.6" font-size="31" font-weight="bold" text-anchor="middle">Manual</text>
<text transform="translate(707,721.3) rotate(-90)" font-size="32" font-weight="bold" text-anchor="middle">Dmin (mm)</text>
<text x="684" y="549" font-size="50" font-weight="bold">c</text>
</g>
<g>
<clipPath id="clipd"><rect x="1278.7" y="566.8" width="404.2" height="309.3"/></clipPath>
<rect x="1334.2" y="784.3" width="58.1" height="54.5" fill="#4cb9c5" stroke="#303030" stroke-width="1.9"/>
<rect x="1521.9" y="822.6" width="58" height="16.2" fill="#ef7a6d" stroke="#303030" stroke-width="1.9"/>
<path d="M1363.5,784.3 V721.4 M1348.4,721.4 H1378.5" stroke="#303030" stroke-width="1.9" fill="none"/>
<path d="M1551,822.6 V809.5 M1536.2,809.5 H1566.1" stroke="#303030" stroke-width="1.9" fill="none"/>
<g clip-path="url(#clipd)" fill="none" stroke="#333" stroke-width="2.5">
<path d="M1403,611.7L1403.2,616.2L1403.5,620.6L1403.7,625.1L1404.1,629.6L1404.5,634.1L1404.9,638.5L1405.5,643L1406.1,647.5L1406.7,652L1407.5,656.4L1408.3,660.9L1409.3,665.4L1410.3,669.8L1411.4,674.3L1412.7,678.8L1414,683.3L1415.4,687.7L1417,692.2L1418.6,696.7L1420.3,701.2L1422,705.6L1423.8,710.1L1425.7,714.6L1427.6,719.1L1429.5,723.5L1431.4,728L1433.2,732.5L1435,736.9L1436.7,741.4L1438.3,745.9L1439.8,750.4L1441.2,754.8L1442.4,759.3L1443.4,763.8L1444.3,768.3L1444.9,772.7L1445.3,777.2L1445.5,781.7L1445.5,786.1L1445.2,790.6L1444.7,795.1L1444,799.6L1443.2,804L1442.1,808.5L1440.8,813L1439.4,817.5L1437.9,821.9L1436.3,826.4L1434.5,830.9L1432.7,835.4L1430.9,839.8L1429,844.3L1427.1,848.8L1425.2,853.2L1423.4,857.7L1421.6,862.2L1419.8,866.7L1418.1,871.1L1416.6,875.6L1415.1,880.1"/>
<path d="M1590.7,778L1590.9,779.5L1591,781L1591.3,782.5L1591.5,784L1591.9,785.5L1592.4,787L1593,788.5L1593.7,790L1594.5,791.5L1595.6,793L1596.8,794.4L1598.2,795.9L1599.8,797.4L1601.7,798.9L1603.8,800.4L1606,801.9L1608.5,803.4L1611.1,804.9L1613.8,806.4L1616.6,807.9L1619.3,809.4L1622.1,810.9L1624.7,812.4L1627.1,813.9L1629.2,815.3L1631,816.8L1632.5,818.3L1633.5,819.8L1634,821.3L1634.1,822.8L1633.6,824.3L1632.7,825.8L1631.4,827.3L1629.7,828.8L1627.6,830.3L1625.3,831.8L1622.7,833.3L1620,834.8L1617.2,836.3L1614.4,837.7L1611.7,839.2L1609.1,840.7L1606.6,842.2L1604.3,843.7L1602.2,845.2L1600.3,846.7L1598.6,848.2L1597.1,849.7L1595.8,851.2L1594.8,852.7L1593.9,854.2L1593.1,855.7L1592.5,857.2L1592,858.6L1591.6,860.1L1591.3,861.6L1591.1,863.1L1590.9,864.6L1590.8,866.1L1590.7,867.6"/>
</g>
<path d="M1397.7,642.2 l4.1,-4.1 l4.1,4.1 l-4.1,4.1 Z" fill="#4fbac6"/>
<path d="M1397.7,670.6 l4.1,-4.1 l4.1,4.1 l-4.1,4.1 Z" fill="#4fbac6"/>
<path d="M1397.7,758.4 l4.1,-4.1 l4.1,4.1 l-4.1,4.1 Z" fill="#4fbac6"/>
<path d="M1409.7,769.6 l4.1,-4.1 l4.1,4.1 l-4.1,4.1 Z" fill="#4fbac6"/>
<path d="M1403.7,774.4 l4.1,-4.1 l4.1,4.1 l-4.1,4.1 Z" fill="#4fbac6"/>
<path d="M1397.7,796.7 l4.1,-4.1 l4.1,4.1 l-4.1,4.1 Z" fill="#4fbac6"/>
<path d="M1409.7,806.2 l4.1,-4.1 l4.1,4.1 l-4.1,4.1 Z" fill="#4fbac6"/>
<path d="M1397.7,826.9 l4.1,-4.1 l4.1,4.1 l-4.1,4.1 Z" fill="#4fbac6"/>
<path d="M1403.7,829 l4.1,-4.1 l4.1,4.1 l-4.1,4.1 Z" fill="#4fbac6"/>
<path d="M1416.2,828.2 l4.1,-4.1 l4.1,4.1 l-4.1,4.1 Z" fill="#4fbac6"/>
<path d="M1422.2,831.6 l4.1,-4.1 l4.1,4.1 l-4.1,4.1 Z" fill="#4fbac6"/>
<path d="M1428.2,828.2 l4.1,-4.1 l4.1,4.1 l-4.1,4.1 Z" fill="#4fbac6"/>
<path d="M1434.2,833.3 l4.1,-4.1 l4.1,4.1 l-4.1,4.1 Z" fill="#4fbac6"/>
<path d="M1585.9,791.4 l4.1,-4.1 l4.1,4.1 l-4.1,4.1 Z" fill="#f0796b"/>
<path d="M1619.1,809.1 l4.1,-4.1 l4.1,4.1 l-4.1,4.1 Z" fill="#f0796b"/>
<path d="M1607.4,809.9 l4.1,-4.1 l4.1,4.1 l-4.1,4.1 Z" fill="#f0796b"/>
<path d="M1611.1,814.2 l4.1,-4.1 l4.1,4.1 l-4.1,4.1 Z" fill="#f0796b"/>
<path d="M1600.9,819 l4.1,-4.1 l4.1,4.1 l-4.1,4.1 Z" fill="#f0796b"/>
<path d="M1622,824.4 l4.1,-4.1 l4.1,4.1 l-4.1,4.1 Z" fill="#f0796b"/>
<path d="M1593.6,827.3 l4.1,-4.1 l4.1,4.1 l-4.1,4.1 Z" fill="#f0796b"/>
<path d="M1614.7,830.3 l4.1,-4.1 l4.1,4.1 l-4.1,4.1 Z" fill="#f0796b"/>
<path d="M1604.5,831.7 l4.1,-4.1 l4.1,4.1 l-4.1,4.1 Z" fill="#f0796b"/>
<path d="M1587,833.2 l4.1,-4.1 l4.1,4.1 l-4.1,4.1 Z" fill="#f0796b"/>
<path d="M1598,834.6 l4.1,-4.1 l4.1,4.1 l-4.1,4.1 Z" fill="#f0796b"/>
<path d="M1591.4,834.2 l4.1,-4.1 l4.1,4.1 l-4.1,4.1 Z" fill="#f0796b"/>
<path d="M1625.6,836.1 l4.1,-4.1 l4.1,4.1 l-4.1,4.1 Z" fill="#f0796b"/>
<path d="M1393.2,604.8 H1569.6 M1393.2,595.3 V614.6 M1569.6,595.3 V614.6" stroke="#555" stroke-width="2.8" fill="none"/>
<text x="1481.4" y="613.9" font-size="45" font-weight="bold" text-anchor="middle">**</text>
<text x="1481.9" y="630.9" font-size="18.4" font-weight="bold" text-anchor="middle" fill="#1a1a1a">p = 0.008</text>
<rect x="1278.7" y="566.8" width="404.2" height="309.3" fill="none" stroke="#111" stroke-width="2.4"/>
<line x1="1272.9" y1="838.5" x2="1278.7" y2="838.5" stroke="#111" stroke-width="2.1"/>
<text x="1266.6" y="845.5" font-size="21.3" font-weight="bold" text-anchor="end">0</text>
<line x1="1272.9" y1="781.8" x2="1278.7" y2="781.8" stroke="#111" stroke-width="2.1"/>
<text x="1266.6" y="788.8" font-size="21.3" font-weight="bold" text-anchor="end">150</text>
<line x1="1272.9" y1="725.1" x2="1278.7" y2="725.1" stroke="#111" stroke-width="2.1"/>
<text x="1266.6" y="732.1" font-size="21.3" font-weight="bold" text-anchor="end">300</text>
<line x1="1272.9" y1="668.4" x2="1278.7" y2="668.4" stroke="#111" stroke-width="2.1"/>
<text x="1266.6" y="675.4" font-size="21.3" font-weight="bold" text-anchor="end">450</text>
<line x1="1272.9" y1="611.7" x2="1278.7" y2="611.7" stroke="#111" stroke-width="2.1"/>
<text x="1266.6" y="618.7" font-size="21.3" font-weight="bold" text-anchor="end">600</text>
<line x1="1400.9" y1="876.1" x2="1400.9" y2="881.1" stroke="#111" stroke-width="1.8"/>
<line x1="1589" y1="876.1" x2="1589" y2="881.1" stroke="#111" stroke-width="1.8"/>
<text x="1389.7" y="909.6" font-size="31" font-weight="bold" text-anchor="middle">AMSI</text>
<text x="1580.6" y="909.6" font-size="31" font-weight="bold" text-anchor="middle">Manual</text>
<text transform="translate(1220.5,721) rotate(-90)" font-size="29.5" font-weight="bold" text-anchor="middle">Counts</text>
<text x="1196" y="554" font-size="50" font-weight="bold">d</text>
</g>
</svg>
</body></html>
